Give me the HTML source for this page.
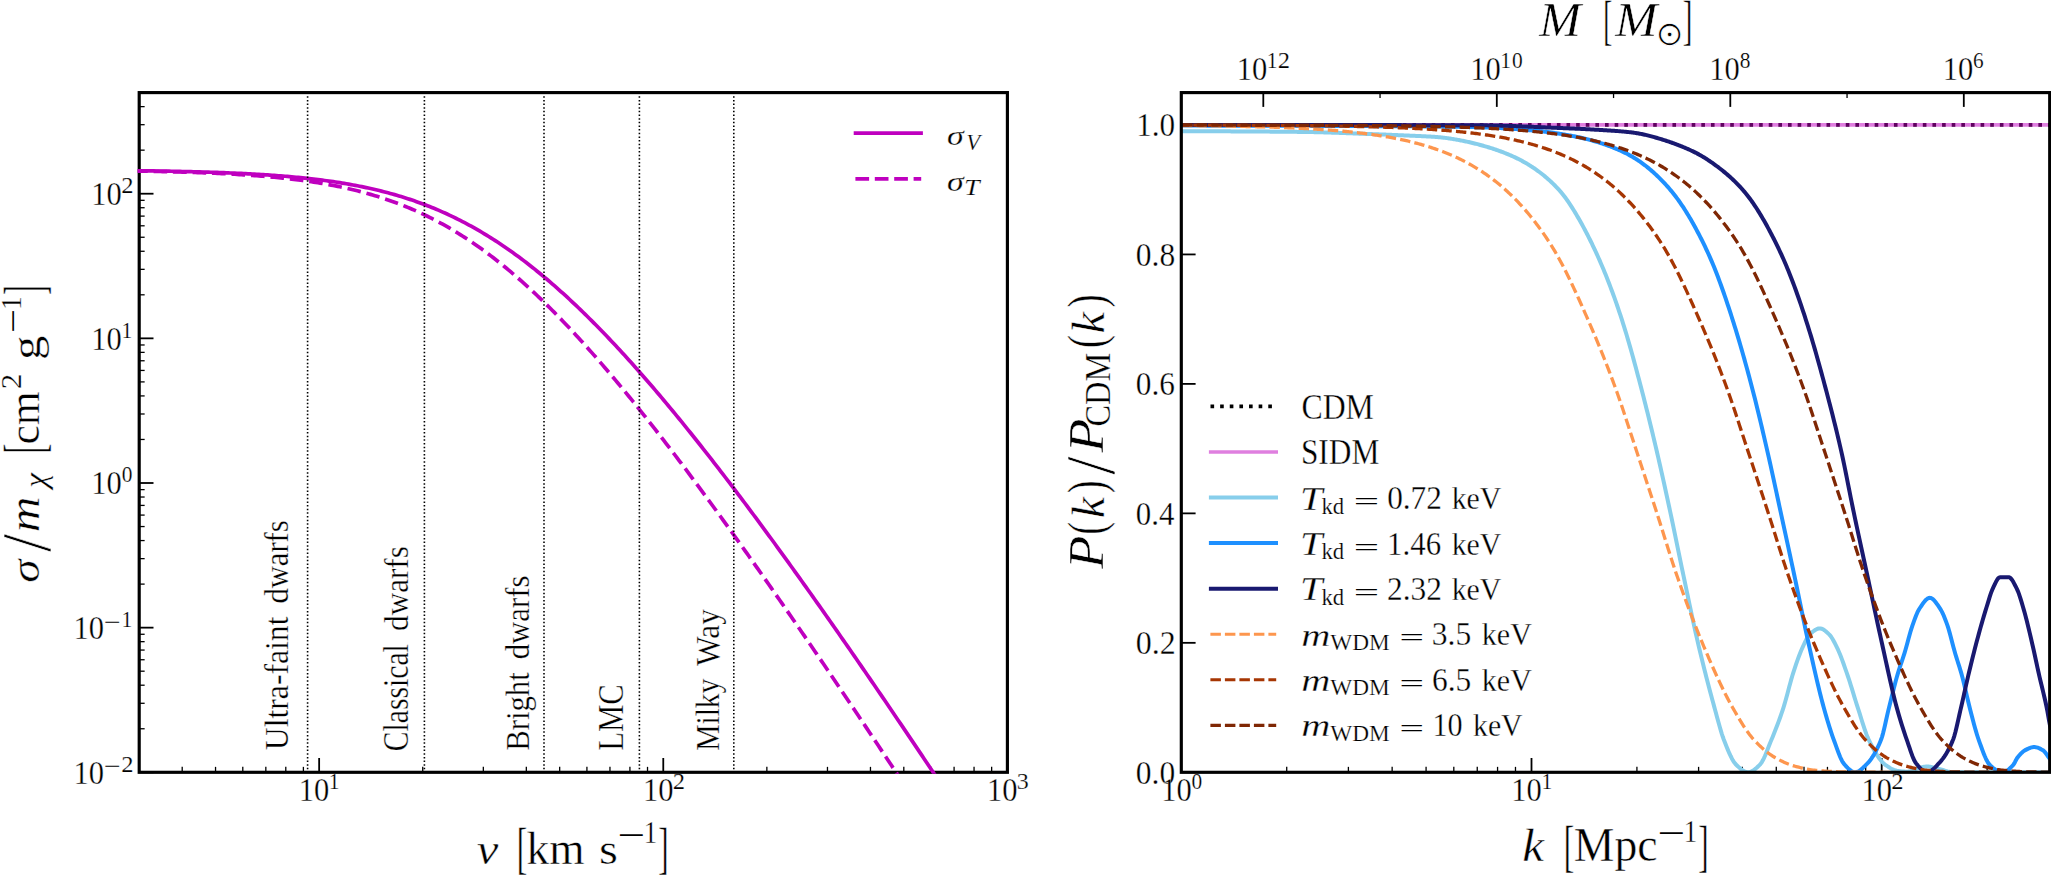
<!DOCTYPE html>
<html><head><meta charset="utf-8"><title>SIDM cross section and power spectrum</title>
<style>
html,body{margin:0;padding:0;background:#fff;overflow:hidden;}
svg{display:block;}
text{fill:#000;stroke:#fff;}
.r{font-family:"Liberation Serif",serif;}
.i{font-family:"Liberation Serif",serif;font-style:italic;}
.d{font-family:"DejaVu Math TeX Gyre","DejaVu Sans",sans-serif;}
</style></head><body>
<svg width="2051" height="875" viewBox="0 0 2051 875">
<rect width="2051" height="875" fill="#fff"/>
<clipPath id="cl"><rect x="137.7" y="92.6" width="869.7" height="681.1999999999999"/></clipPath>
<line x1="139.20" y1="772.30" x2="153.50" y2="772.30" stroke="#000" stroke-width="1.8" />
<line x1="139.20" y1="728.76" x2="144.65" y2="728.76" stroke="#000" stroke-width="1.3" />
<line x1="139.20" y1="703.29" x2="144.65" y2="703.29" stroke="#000" stroke-width="1.3" />
<line x1="139.20" y1="685.21" x2="144.65" y2="685.21" stroke="#000" stroke-width="1.3" />
<line x1="139.20" y1="671.19" x2="144.65" y2="671.19" stroke="#000" stroke-width="1.3" />
<line x1="139.20" y1="659.74" x2="144.65" y2="659.74" stroke="#000" stroke-width="1.3" />
<line x1="139.20" y1="650.06" x2="144.65" y2="650.06" stroke="#000" stroke-width="1.3" />
<line x1="139.20" y1="641.67" x2="144.65" y2="641.67" stroke="#000" stroke-width="1.3" />
<line x1="139.20" y1="634.27" x2="144.65" y2="634.27" stroke="#000" stroke-width="1.3" />
<line x1="139.20" y1="627.65" x2="153.50" y2="627.65" stroke="#000" stroke-width="1.8" />
<line x1="139.20" y1="584.11" x2="144.65" y2="584.11" stroke="#000" stroke-width="1.3" />
<line x1="139.20" y1="558.64" x2="144.65" y2="558.64" stroke="#000" stroke-width="1.3" />
<line x1="139.20" y1="540.56" x2="144.65" y2="540.56" stroke="#000" stroke-width="1.3" />
<line x1="139.20" y1="526.55" x2="144.65" y2="526.55" stroke="#000" stroke-width="1.3" />
<line x1="139.20" y1="515.09" x2="144.65" y2="515.09" stroke="#000" stroke-width="1.3" />
<line x1="139.20" y1="505.41" x2="144.65" y2="505.41" stroke="#000" stroke-width="1.3" />
<line x1="139.20" y1="497.02" x2="144.65" y2="497.02" stroke="#000" stroke-width="1.3" />
<line x1="139.20" y1="489.62" x2="144.65" y2="489.62" stroke="#000" stroke-width="1.3" />
<line x1="139.20" y1="483.00" x2="153.50" y2="483.00" stroke="#000" stroke-width="1.8" />
<line x1="139.20" y1="439.46" x2="144.65" y2="439.46" stroke="#000" stroke-width="1.3" />
<line x1="139.20" y1="413.99" x2="144.65" y2="413.99" stroke="#000" stroke-width="1.3" />
<line x1="139.20" y1="395.92" x2="144.65" y2="395.92" stroke="#000" stroke-width="1.3" />
<line x1="139.20" y1="381.90" x2="144.65" y2="381.90" stroke="#000" stroke-width="1.3" />
<line x1="139.20" y1="370.44" x2="144.65" y2="370.44" stroke="#000" stroke-width="1.3" />
<line x1="139.20" y1="360.76" x2="144.65" y2="360.76" stroke="#000" stroke-width="1.3" />
<line x1="139.20" y1="352.37" x2="144.65" y2="352.37" stroke="#000" stroke-width="1.3" />
<line x1="139.20" y1="344.97" x2="144.65" y2="344.97" stroke="#000" stroke-width="1.3" />
<line x1="139.20" y1="338.35" x2="153.50" y2="338.35" stroke="#000" stroke-width="1.8" />
<line x1="139.20" y1="294.81" x2="144.65" y2="294.81" stroke="#000" stroke-width="1.3" />
<line x1="139.20" y1="269.34" x2="144.65" y2="269.34" stroke="#000" stroke-width="1.3" />
<line x1="139.20" y1="251.27" x2="144.65" y2="251.27" stroke="#000" stroke-width="1.3" />
<line x1="139.20" y1="237.25" x2="144.65" y2="237.25" stroke="#000" stroke-width="1.3" />
<line x1="139.20" y1="225.80" x2="144.65" y2="225.80" stroke="#000" stroke-width="1.3" />
<line x1="139.20" y1="216.11" x2="144.65" y2="216.11" stroke="#000" stroke-width="1.3" />
<line x1="139.20" y1="207.72" x2="144.65" y2="207.72" stroke="#000" stroke-width="1.3" />
<line x1="139.20" y1="200.32" x2="144.65" y2="200.32" stroke="#000" stroke-width="1.3" />
<line x1="139.20" y1="193.71" x2="153.50" y2="193.71" stroke="#000" stroke-width="1.8" />
<line x1="139.20" y1="150.16" x2="144.65" y2="150.16" stroke="#000" stroke-width="1.3" />
<line x1="139.20" y1="124.69" x2="144.65" y2="124.69" stroke="#000" stroke-width="1.3" />
<line x1="139.20" y1="106.62" x2="144.65" y2="106.62" stroke="#000" stroke-width="1.3" />
<line x1="182.20" y1="772.30" x2="182.20" y2="766.85" stroke="#000" stroke-width="1.3" />
<line x1="215.54" y1="772.30" x2="215.54" y2="766.85" stroke="#000" stroke-width="1.3" />
<line x1="242.79" y1="772.30" x2="242.79" y2="766.85" stroke="#000" stroke-width="1.3" />
<line x1="265.83" y1="772.30" x2="265.83" y2="766.85" stroke="#000" stroke-width="1.3" />
<line x1="285.79" y1="772.30" x2="285.79" y2="766.85" stroke="#000" stroke-width="1.3" />
<line x1="303.39" y1="772.30" x2="303.39" y2="766.85" stroke="#000" stroke-width="1.3" />
<line x1="319.14" y1="772.30" x2="319.14" y2="758.00" stroke="#000" stroke-width="1.8" />
<line x1="422.73" y1="772.30" x2="422.73" y2="766.85" stroke="#000" stroke-width="1.3" />
<line x1="483.33" y1="772.30" x2="483.33" y2="766.85" stroke="#000" stroke-width="1.3" />
<line x1="526.33" y1="772.30" x2="526.33" y2="766.85" stroke="#000" stroke-width="1.3" />
<line x1="559.68" y1="772.30" x2="559.68" y2="766.85" stroke="#000" stroke-width="1.3" />
<line x1="586.92" y1="772.30" x2="586.92" y2="766.85" stroke="#000" stroke-width="1.3" />
<line x1="609.96" y1="772.30" x2="609.96" y2="766.85" stroke="#000" stroke-width="1.3" />
<line x1="629.92" y1="772.30" x2="629.92" y2="766.85" stroke="#000" stroke-width="1.3" />
<line x1="647.52" y1="772.30" x2="647.52" y2="766.85" stroke="#000" stroke-width="1.3" />
<line x1="663.27" y1="772.30" x2="663.27" y2="758.00" stroke="#000" stroke-width="1.8" />
<line x1="766.86" y1="772.30" x2="766.86" y2="766.85" stroke="#000" stroke-width="1.3" />
<line x1="827.46" y1="772.30" x2="827.46" y2="766.85" stroke="#000" stroke-width="1.3" />
<line x1="870.46" y1="772.30" x2="870.46" y2="766.85" stroke="#000" stroke-width="1.3" />
<line x1="903.81" y1="772.30" x2="903.81" y2="766.85" stroke="#000" stroke-width="1.3" />
<line x1="931.06" y1="772.30" x2="931.06" y2="766.85" stroke="#000" stroke-width="1.3" />
<line x1="954.09" y1="772.30" x2="954.09" y2="766.85" stroke="#000" stroke-width="1.3" />
<line x1="974.05" y1="772.30" x2="974.05" y2="766.85" stroke="#000" stroke-width="1.3" />
<line x1="991.65" y1="772.30" x2="991.65" y2="766.85" stroke="#000" stroke-width="1.3" />
<rect x="139.2" y="92.6" width="868.2" height="679.6999999999999" fill="none" stroke="#000" stroke-width="3.15"/>
<g clip-path="url(#cl)">
<path d="M134.13,170.69 L136.32,170.72 L138.51,170.74 L140.70,170.77 L142.89,170.80 L145.08,170.83 L147.27,170.86 L149.45,170.89 L151.64,170.92 L153.83,170.96 L156.02,170.99 L158.21,171.02 L160.40,171.06 L162.59,171.10 L164.77,171.14 L166.96,171.18 L169.15,171.22 L171.34,171.26 L173.53,171.30 L175.72,171.34 L177.91,171.39 L180.09,171.44 L182.28,171.48 L184.47,171.53 L186.66,171.58 L188.85,171.64 L191.04,171.69 L193.23,171.75 L195.42,171.80 L197.60,171.86 L199.79,171.92 L201.98,171.98 L204.17,172.05 L206.36,172.11 L208.55,172.18 L210.74,172.25 L212.92,172.32 L215.11,172.40 L217.30,172.47 L219.49,172.55 L221.68,172.63 L223.87,172.71 L226.06,172.80 L228.24,172.89 L230.43,172.98 L232.62,173.07 L234.81,173.16 L237.00,173.26 L239.19,173.36 L241.38,173.46 L243.57,173.57 L245.75,173.68 L247.94,173.79 L250.13,173.91 L252.32,174.03 L254.51,174.15 L256.70,174.28 L258.89,174.40 L261.07,174.54 L263.26,174.67 L265.45,174.81 L267.64,174.96 L269.83,175.11 L272.02,175.26 L274.21,175.41 L276.39,175.58 L278.58,175.74 L280.77,175.91 L282.96,176.09 L285.15,176.26 L287.34,176.45 L289.53,176.64 L291.72,176.83 L293.90,177.03 L296.09,177.24 L298.28,177.45 L300.47,177.66 L302.66,177.89 L304.85,178.12 L307.04,178.35 L309.22,178.59 L311.41,178.84 L313.60,179.09 L315.79,179.35 L317.98,179.62 L320.17,179.89 L322.36,180.17 L324.54,180.46 L326.73,180.76 L328.92,181.06 L331.11,181.37 L333.30,181.69 L335.49,182.02 L337.68,182.36 L339.87,182.70 L342.05,183.05 L344.24,183.42 L346.43,183.79 L348.62,184.17 L350.81,184.56 L353.00,184.96 L355.19,185.37 L357.37,185.79 L359.56,186.22 L361.75,186.66 L363.94,187.11 L366.13,187.57 L368.32,188.04 L370.51,188.52 L372.69,189.02 L374.88,189.53 L377.07,190.04 L379.26,190.57 L381.45,191.12 L383.64,191.67 L385.83,192.24 L388.02,192.82 L390.20,193.42 L392.39,194.02 L394.58,194.64 L396.77,195.28 L398.96,195.92 L401.15,196.59 L403.34,197.26 L405.52,197.95 L407.71,198.66 L409.90,199.38 L412.09,200.11 L414.28,200.86 L416.47,201.63 L418.66,202.41 L420.84,203.20 L423.03,204.02 L425.22,204.84 L427.41,205.69 L429.60,206.55 L431.79,207.43 L433.98,208.32 L436.17,209.23 L438.35,210.16 L440.54,211.11 L442.73,212.07 L444.92,213.05 L447.11,214.05 L449.30,215.06 L451.49,216.10 L453.67,217.15 L455.86,218.21 L458.05,219.30 L460.24,220.41 L462.43,221.53 L464.62,222.67 L466.81,223.83 L468.99,225.01 L471.18,226.21 L473.37,227.43 L475.56,228.66 L477.75,229.92 L479.94,231.19 L482.13,232.48 L484.32,233.79 L486.50,235.12 L488.69,236.47 L490.88,237.84 L493.07,239.23 L495.26,240.63 L497.45,242.06 L499.64,243.50 L501.82,244.96 L504.01,246.45 L506.20,247.95 L508.39,249.47 L510.58,251.01 L512.77,252.57 L514.96,254.14 L517.14,255.74 L519.33,257.35 L521.52,258.99 L523.71,260.64 L525.90,262.31 L528.09,264.00 L530.28,265.71 L532.47,267.43 L534.65,269.18 L536.84,270.94 L539.03,272.72 L541.22,274.52 L543.41,276.34 L545.60,278.17 L547.79,280.02 L549.97,281.89 L552.16,283.78 L554.35,285.69 L556.54,287.61 L558.73,289.55 L560.92,291.51 L563.11,293.48 L565.30,295.47 L567.48,297.48 L569.67,299.50 L571.86,301.54 L574.05,303.60 L576.24,305.67 L578.43,307.76 L580.62,309.86 L582.80,311.98 L584.99,314.12 L587.18,316.27 L589.37,318.44 L591.56,320.62 L593.75,322.82 L595.94,325.03 L598.12,327.26 L600.31,329.50 L602.50,331.76 L604.69,334.03 L606.88,336.31 L609.07,338.61 L611.26,340.92 L613.45,343.25 L615.63,345.59 L617.82,347.94 L620.01,350.31 L622.20,352.69 L624.39,355.08 L626.58,357.49 L628.77,359.91 L630.95,362.34 L633.14,364.78 L635.33,367.24 L637.52,369.71 L639.71,372.19 L641.90,374.68 L644.09,377.19 L646.27,379.70 L648.46,382.23 L650.65,384.77 L652.84,387.32 L655.03,389.88 L657.22,392.45 L659.41,395.04 L661.60,397.63 L663.78,400.24 L665.97,402.85 L668.16,405.48 L670.35,408.11 L672.54,410.76 L674.73,413.42 L676.92,416.08 L679.10,418.76 L681.29,421.44 L683.48,424.14 L685.67,426.84 L687.86,429.55 L690.05,432.28 L692.24,435.01 L694.42,437.75 L696.61,440.50 L698.80,443.26 L700.99,446.02 L703.18,448.80 L705.37,451.58 L707.56,454.38 L709.75,457.18 L711.93,459.98 L714.12,462.80 L716.31,465.62 L718.50,468.46 L720.69,471.30 L722.88,474.14 L725.07,477.00 L727.25,479.86 L729.44,482.73 L731.63,485.61 L733.82,488.49 L736.01,491.38 L738.20,494.28 L740.39,497.18 L742.57,500.10 L744.76,503.01 L746.95,505.94 L749.14,508.87 L751.33,511.81 L753.52,514.75 L755.71,517.70 L757.90,520.66 L760.08,523.62 L762.27,526.59 L764.46,529.57 L766.65,532.55 L768.84,535.53 L771.03,538.53 L773.22,541.52 L775.40,544.53 L777.59,547.54 L779.78,550.55 L781.97,553.57 L784.16,556.60 L786.35,559.63 L788.54,562.66 L790.72,565.71 L792.91,568.75 L795.10,571.80 L797.29,574.86 L799.48,577.92 L801.67,580.99 L803.86,584.06 L806.05,587.13 L808.23,590.21 L810.42,593.30 L812.61,596.39 L814.80,599.48 L816.99,602.58 L819.18,605.68 L821.37,608.79 L823.55,611.90 L825.74,615.02 L827.93,618.14 L830.12,621.26 L832.31,624.39 L834.50,627.52 L836.69,630.66 L838.87,633.80 L841.06,636.94 L843.25,640.09 L845.44,643.24 L847.63,646.40 L849.82,649.56 L852.01,652.72 L854.20,655.89 L856.38,659.06 L858.57,662.23 L860.76,665.41 L862.95,668.59 L865.14,671.77 L867.33,674.96 L869.52,678.15 L871.70,681.35 L873.89,684.54 L876.08,687.74 L878.27,690.95 L880.46,694.16 L882.65,697.37 L884.84,700.58 L887.02,703.80 L889.21,707.02 L891.40,710.24 L893.59,713.46 L895.78,716.69 L897.97,719.92 L900.16,723.16 L902.35,726.40 L904.53,729.64 L906.72,732.88 L908.91,736.12 L911.10,739.37 L913.29,742.62 L915.48,745.88 L917.67,749.13 L919.85,752.39 L922.04,755.65 L924.23,758.92 L926.42,762.18 L928.61,765.45 L930.80,768.72 L932.99,772.00 L935.17,775.27 L937.36,778.55 L939.55,781.83 L941.74,785.12 L943.93,788.40 L946.12,791.69 L948.31,794.98 L950.50,798.27 L952.68,801.57" fill="none" stroke="#bf00bf" stroke-width="3.7" stroke-linejoin="round" />
<path d="M134.13,170.99 L136.32,171.02 L138.51,171.06 L140.70,171.09 L142.89,171.13 L145.08,171.17 L147.27,171.21 L149.45,171.25 L151.64,171.29 L153.83,171.34 L156.02,171.38 L158.21,171.43 L160.40,171.48 L162.59,171.53 L164.77,171.58 L166.96,171.63 L169.15,171.68 L171.34,171.74 L173.53,171.80 L175.72,171.86 L177.91,171.92 L180.09,171.98 L182.28,172.04 L184.47,172.11 L186.66,172.18 L188.85,172.24 L191.04,172.32 L193.23,172.39 L195.42,172.47 L197.60,172.54 L199.79,172.62 L201.98,172.71 L204.17,172.79 L206.36,172.88 L208.55,172.97 L210.74,173.06 L212.92,173.16 L215.11,173.25 L217.30,173.35 L219.49,173.46 L221.68,173.56 L223.87,173.67 L226.06,173.79 L228.24,173.90 L230.43,174.02 L232.62,174.14 L234.81,174.27 L237.00,174.40 L239.19,174.53 L241.38,174.67 L243.57,174.81 L245.75,174.95 L247.94,175.10 L250.13,175.26 L252.32,175.41 L254.51,175.58 L256.70,175.74 L258.89,175.91 L261.07,176.09 L263.26,176.27 L265.45,176.45 L267.64,176.64 L269.83,176.84 L272.02,177.04 L274.21,177.25 L276.39,177.46 L278.58,177.68 L280.77,177.90 L282.96,178.13 L285.15,178.37 L287.34,178.61 L289.53,178.86 L291.72,179.12 L293.90,179.38 L296.09,179.65 L298.28,179.93 L300.47,180.21 L302.66,180.50 L304.85,180.80 L307.04,181.11 L309.22,181.43 L311.41,181.75 L313.60,182.08 L315.79,182.42 L317.98,182.77 L320.17,183.13 L322.36,183.50 L324.54,183.88 L326.73,184.27 L328.92,184.66 L331.11,185.07 L333.30,185.49 L335.49,185.91 L337.68,186.35 L339.87,186.80 L342.05,187.26 L344.24,187.73 L346.43,188.22 L348.62,188.71 L350.81,189.22 L353.00,189.74 L355.19,190.27 L357.37,190.81 L359.56,191.37 L361.75,191.94 L363.94,192.52 L366.13,193.12 L368.32,193.73 L370.51,194.36 L372.69,195.00 L374.88,195.65 L377.07,196.32 L379.26,197.00 L381.45,197.70 L383.64,198.41 L385.83,199.14 L388.02,199.89 L390.20,200.65 L392.39,201.42 L394.58,202.22 L396.77,203.03 L398.96,203.86 L401.15,204.70 L403.34,205.56 L405.52,206.44 L407.71,207.34 L409.90,208.25 L412.09,209.18 L414.28,210.14 L416.47,211.10 L418.66,212.09 L420.84,213.10 L423.03,214.12 L425.22,215.17 L427.41,216.23 L429.60,217.32 L431.79,218.42 L433.98,219.54 L436.17,220.68 L438.35,221.84 L440.54,223.03 L442.73,224.23 L444.92,225.45 L447.11,226.69 L449.30,227.95 L451.49,229.24 L453.67,230.54 L455.86,231.86 L458.05,233.21 L460.24,234.58 L462.43,235.96 L464.62,237.37 L466.81,238.80 L468.99,240.24 L471.18,241.71 L473.37,243.20 L475.56,244.72 L477.75,246.25 L479.94,247.80 L482.13,249.37 L484.32,250.97 L486.50,252.58 L488.69,254.22 L490.88,255.87 L493.07,257.55 L495.26,259.25 L497.45,260.97 L499.64,262.70 L501.82,264.46 L504.01,266.24 L506.20,268.04 L508.39,269.86 L510.58,271.70 L512.77,273.55 L514.96,275.43 L517.14,277.33 L519.33,279.24 L521.52,281.18 L523.71,283.14 L525.90,285.11 L528.09,287.10 L530.28,289.11 L532.47,291.14 L534.65,293.19 L536.84,295.26 L539.03,297.35 L541.22,299.45 L543.41,301.57 L545.60,303.71 L547.79,305.86 L549.97,308.04 L552.16,310.23 L554.35,312.43 L556.54,314.66 L558.73,316.90 L560.92,319.15 L563.11,321.43 L565.30,323.72 L567.48,326.02 L569.67,328.34 L571.86,330.68 L574.05,333.03 L576.24,335.39 L578.43,337.78 L580.62,340.17 L582.80,342.58 L584.99,345.01 L587.18,347.45 L589.37,349.90 L591.56,352.37 L593.75,354.85 L595.94,357.34 L598.12,359.85 L600.31,362.37 L602.50,364.91 L604.69,367.45 L606.88,370.01 L609.07,372.58 L611.26,375.17 L613.45,377.76 L615.63,380.37 L617.82,382.99 L620.01,385.62 L622.20,388.27 L624.39,390.92 L626.58,393.59 L628.77,396.26 L630.95,398.95 L633.14,401.65 L635.33,404.36 L637.52,407.08 L639.71,409.81 L641.90,412.54 L644.09,415.29 L646.27,418.05 L648.46,420.82 L650.65,423.60 L652.84,426.39 L655.03,429.18 L657.22,431.99 L659.41,434.80 L661.60,437.63 L663.78,440.46 L665.97,443.30 L668.16,446.15 L670.35,449.01 L672.54,451.87 L674.73,454.75 L676.92,457.63 L679.10,460.52 L681.29,463.42 L683.48,466.32 L685.67,469.23 L687.86,472.15 L690.05,475.08 L692.24,478.02 L694.42,480.96 L696.61,483.91 L698.80,486.86 L700.99,489.82 L703.18,492.79 L705.37,495.77 L707.56,498.75 L709.75,501.74 L711.93,504.73 L714.12,507.73 L716.31,510.74 L718.50,513.75 L720.69,516.77 L722.88,519.80 L725.07,522.83 L727.25,525.87 L729.44,528.91 L731.63,531.95 L733.82,535.01 L736.01,538.07 L738.20,541.13 L740.39,544.20 L742.57,547.27 L744.76,550.35 L746.95,553.43 L749.14,556.52 L751.33,559.62 L753.52,562.72 L755.71,565.82 L757.90,568.93 L760.08,572.04 L762.27,575.16 L764.46,578.28 L766.65,581.41 L768.84,584.54 L771.03,587.67 L773.22,590.81 L775.40,593.95 L777.59,597.10 L779.78,600.25 L781.97,603.41 L784.16,606.57 L786.35,609.73 L788.54,612.90 L790.72,616.07 L792.91,619.24 L795.10,622.42 L797.29,625.61 L799.48,628.79 L801.67,631.98 L803.86,635.17 L806.05,638.37 L808.23,641.57 L810.42,644.77 L812.61,647.98 L814.80,651.19 L816.99,654.40 L819.18,657.62 L821.37,660.84 L823.55,664.06 L825.74,667.29 L827.93,670.52 L830.12,673.75 L832.31,676.99 L834.50,680.22 L836.69,683.47 L838.87,686.71 L841.06,689.96 L843.25,693.21 L845.44,696.46 L847.63,699.71 L849.82,702.97 L852.01,706.23 L854.20,709.50 L856.38,712.76 L858.57,716.03 L860.76,719.30 L862.95,722.57 L865.14,725.85 L867.33,729.13 L869.52,732.41 L871.70,735.69 L873.89,738.98 L876.08,742.27 L878.27,745.56 L880.46,748.85 L882.65,752.15 L884.84,755.44 L887.02,758.74 L889.21,762.05 L891.40,765.35 L893.59,768.66 L895.78,771.97 L897.97,775.28 L900.16,778.59 L902.35,781.90 L904.53,785.22 L906.72,788.54 L908.91,791.86 L911.10,795.18 L913.29,798.51 L915.48,801.84" fill="none" stroke="#bf00bf" stroke-width="3.7" stroke-dasharray="13.6 5.9" stroke-linejoin="round" />
<line x1="307.6" y1="92.6" x2="307.6" y2="772.3" stroke="#000" stroke-width="1.6" stroke-dasharray="1.5 2.15"/>
<line x1="424.4" y1="92.6" x2="424.4" y2="772.3" stroke="#000" stroke-width="1.6" stroke-dasharray="1.5 2.15"/>
<line x1="544.0" y1="92.6" x2="544.0" y2="772.3" stroke="#000" stroke-width="1.6" stroke-dasharray="1.5 2.15"/>
<line x1="639.4" y1="92.6" x2="639.4" y2="772.3" stroke="#000" stroke-width="1.6" stroke-dasharray="1.5 2.15"/>
<line x1="733.8" y1="92.6" x2="733.8" y2="772.3" stroke="#000" stroke-width="1.6" stroke-dasharray="1.5 2.15"/>
</g>
<text class="r" font-size="33.04" stroke-width="0.31" transform="translate(91.33,205.17) scale(0.9236,1)">10</text>
<text class="r" font-size="23.17" stroke-width="0.22" transform="translate(121.15,193.36) scale(1.0616,1)">2</text>
<text class="r" font-size="33.04" stroke-width="0.31" transform="translate(91.33,349.82) scale(0.9236,1)">10</text>
<text class="r" font-size="22.88" stroke-width="0.22" transform="translate(121.41,337.75) scale(0.9424,1)">1</text>
<text class="r" font-size="33.04" stroke-width="0.31" transform="translate(91.33,494.47) scale(0.9236,1)">10</text>
<text class="r" font-size="22.74" stroke-width="0.22" transform="translate(121.80,482.43) scale(0.9416,1)">0</text>
<text class="r" font-size="33.04" stroke-width="0.31" transform="translate(73.43,639.12) scale(0.9236,1)">10</text>
<text class="r" font-size="24.00" stroke-width="0" transform="translate(104.02,629.83) scale(1.2366,1)">−</text>
<text class="r" font-size="22.88" stroke-width="0.22" transform="translate(121.41,627.05) scale(0.9424,1)">1</text>
<text class="r" font-size="33.04" stroke-width="0.31" transform="translate(73.43,783.77) scale(0.9236,1)">10</text>
<text class="r" font-size="24.00" stroke-width="0" transform="translate(104.02,774.48) scale(1.2366,1)">−</text>
<text class="r" font-size="23.17" stroke-width="0.22" transform="translate(121.15,771.95) scale(1.0616,1)">2</text>
<text class="r" font-size="33.04" stroke-width="0.31" transform="translate(298.77,800.97) scale(0.9236,1)">10</text>
<text class="r" font-size="22.88" stroke-width="0.22" transform="translate(328.85,788.90) scale(0.9424,1)">1</text>
<text class="r" font-size="33.04" stroke-width="0.31" transform="translate(642.90,800.97) scale(0.9236,1)">10</text>
<text class="r" font-size="23.17" stroke-width="0.22" transform="translate(672.72,789.15) scale(1.0616,1)">2</text>
<text class="r" font-size="33.04" stroke-width="0.31" transform="translate(987.03,800.97) scale(0.9236,1)">10</text>
<text class="r" font-size="22.83" stroke-width="0.22" transform="translate(1016.76,788.92) scale(1.0515,1)">3</text>
<text class="r" font-size="33.15" stroke-width="0.31" transform="translate(288.27,750.23) rotate(-90) scale(0.9565,1)">Ultra-faint</text>
<text class="r" font-size="33.15" stroke-width="0.31" transform="translate(288.27,603.57) rotate(-90) scale(0.9233,1)">dwarfs</text>
<text class="r" font-size="34.89" stroke-width="0.33" transform="translate(407.95,751.19) rotate(-90) scale(0.8493,1)">Classical</text>
<text class="r" font-size="34.41" stroke-width="0.33" transform="translate(407.96,630.89) rotate(-90) scale(0.9049,1)">dwarfs</text>
<text class="r" font-size="33.30" stroke-width="0.32" transform="translate(529.14,750.85) rotate(-90) scale(0.9239,1)">Bright</text>
<text class="r" font-size="33.15" stroke-width="0.31" transform="translate(528.97,659.28) rotate(-90) scale(0.9290,1)">dwarfs</text>
<text class="r" font-size="35.39" stroke-width="0.34" transform="translate(622.55,750.84) rotate(-90) scale(0.8673,1)">LMC</text>
<text class="r" font-size="32.97" stroke-width="0.31" transform="translate(719.31,750.81) rotate(-90) scale(0.8956,1)">Milky</text>
<text class="r" font-size="34.48" stroke-width="0.33" transform="translate(718.99,665.90) rotate(-90) scale(0.9126,1)">Way</text>
<line x1="853.70" y1="133.10" x2="922.90" y2="133.10" stroke-width="3.7" stroke="#bf00bf"/>
<line x1="855.4" y1="178.9" x2="921.2" y2="178.9" stroke="#bf00bf" stroke-width="3.7" stroke-dasharray="13.7 5.7"/>
<text class="i" font-size="28.06" stroke-width="0.27" transform="translate(946.98,145.12) scale(1.2097,1)">σ</text>
<text class="i" font-size="23.88" stroke-width="0.23" transform="translate(966.21,149.74) scale(0.9526,1)">V</text>
<text class="i" font-size="28.06" stroke-width="0.27" transform="translate(946.98,190.52) scale(1.2097,1)">σ</text>
<text class="i" font-size="23.97" stroke-width="0.23" transform="translate(963.88,195.10) scale(1.1682,1)">T</text>
<text class="i" font-size="45.11" stroke-width="0.43" transform="translate(476.67,863.55) scale(1.0776,1)">v</text>
<text class="r" font-size="56.14" stroke-width="0.53" transform="translate(516.84,867.22) scale(0.5604,1)">[</text>
<text class="r" font-size="46.62" stroke-width="0.44" transform="translate(526.59,863.70) scale(0.9737,1)">km</text>
<text class="r" font-size="45.00" stroke-width="0.43" transform="translate(599.05,863.75) scale(1.0809,1)">s</text>
<text class="r" font-size="33.00" stroke-width="0" transform="translate(617.55,846.07) scale(1.4858,1)">−</text>
<text class="r" font-size="31.21" stroke-width="0.30" transform="translate(643.64,843.10) scale(0.8635,1)">1</text>
<text class="r" font-size="56.14" stroke-width="0.53" transform="translate(658.21,867.22) scale(0.5541,1)">]</text>
<text class="i" font-size="40.57" stroke-width="0.39" transform="translate(38.89,582.82) rotate(-90) scale(1.1653,1)">σ</text>
<text class="r" font-size="69.55" stroke-width="0.66" transform="translate(49.60,552.10) rotate(-90) scale(0.9274,1)">/</text>
<text class="i" font-size="43.83" stroke-width="0.42" transform="translate(38.90,532.23) rotate(-90) scale(1.1284,1)">m</text>
<text class="i" font-size="32.12" stroke-width="0.31" transform="translate(46.17,487.65) rotate(-90) scale(1.0320,1)">χ</text>
<text class="r" font-size="56.27" stroke-width="0.53" transform="translate(42.70,453.42) rotate(-90) scale(0.5272,1)">[</text>
<text class="r" font-size="44.38" stroke-width="0.42" transform="translate(38.76,444.54) rotate(-90) scale(0.9842,1)">cm</text>
<text class="r" font-size="30.19" stroke-width="0.29" transform="translate(21.00,389.23) rotate(-90) scale(1.0370,1)">2</text>
<text class="r" font-size="41.37" stroke-width="0.39" transform="translate(39.70,359.88) rotate(-90) scale(1.1822,1)">g</text>
<text class="r" font-size="33.00" stroke-width="0" transform="translate(23.57,333.03) rotate(-90) scale(1.2903,1)">−</text>
<text class="r" font-size="30.30" stroke-width="0.29" transform="translate(21.00,310.01) rotate(-90) scale(0.9081,1)">1</text>
<text class="r" font-size="56.27" stroke-width="0.53" transform="translate(42.70,295.03) rotate(-90) scale(0.5213,1)">]</text>
<clipPath id="cr"><rect x="1181.3" y="92.6" width="868.3999999999999" height="679.6999999999999"/></clipPath>
<line x1="1181.30" y1="772.30" x2="1195.60" y2="772.30" stroke="#000" stroke-width="1.8" />
<line x1="1181.30" y1="642.83" x2="1195.60" y2="642.83" stroke="#000" stroke-width="1.8" />
<line x1="1181.30" y1="513.37" x2="1195.60" y2="513.37" stroke="#000" stroke-width="1.8" />
<line x1="1181.30" y1="383.90" x2="1195.60" y2="383.90" stroke="#000" stroke-width="1.8" />
<line x1="1181.30" y1="254.43" x2="1195.60" y2="254.43" stroke="#000" stroke-width="1.8" />
<line x1="1181.30" y1="124.97" x2="1195.60" y2="124.97" stroke="#000" stroke-width="1.8" />
<line x1="1286.72" y1="772.30" x2="1286.72" y2="766.85" stroke="#000" stroke-width="1.3" />
<line x1="1348.39" y1="772.30" x2="1348.39" y2="766.85" stroke="#000" stroke-width="1.3" />
<line x1="1392.14" y1="772.30" x2="1392.14" y2="766.85" stroke="#000" stroke-width="1.3" />
<line x1="1426.08" y1="772.30" x2="1426.08" y2="766.85" stroke="#000" stroke-width="1.3" />
<line x1="1453.81" y1="772.30" x2="1453.81" y2="766.85" stroke="#000" stroke-width="1.3" />
<line x1="1477.25" y1="772.30" x2="1477.25" y2="766.85" stroke="#000" stroke-width="1.3" />
<line x1="1497.56" y1="772.30" x2="1497.56" y2="766.85" stroke="#000" stroke-width="1.3" />
<line x1="1515.48" y1="772.30" x2="1515.48" y2="766.85" stroke="#000" stroke-width="1.3" />
<line x1="1531.50" y1="772.30" x2="1531.50" y2="758.00" stroke="#000" stroke-width="1.8" />
<line x1="1636.92" y1="772.30" x2="1636.92" y2="766.85" stroke="#000" stroke-width="1.3" />
<line x1="1698.59" y1="772.30" x2="1698.59" y2="766.85" stroke="#000" stroke-width="1.3" />
<line x1="1742.34" y1="772.30" x2="1742.34" y2="766.85" stroke="#000" stroke-width="1.3" />
<line x1="1776.28" y1="772.30" x2="1776.28" y2="766.85" stroke="#000" stroke-width="1.3" />
<line x1="1804.01" y1="772.30" x2="1804.01" y2="766.85" stroke="#000" stroke-width="1.3" />
<line x1="1827.45" y1="772.30" x2="1827.45" y2="766.85" stroke="#000" stroke-width="1.3" />
<line x1="1847.76" y1="772.30" x2="1847.76" y2="766.85" stroke="#000" stroke-width="1.3" />
<line x1="1865.68" y1="772.30" x2="1865.68" y2="766.85" stroke="#000" stroke-width="1.3" />
<line x1="1881.70" y1="772.30" x2="1881.70" y2="758.00" stroke="#000" stroke-width="1.8" />
<line x1="1987.12" y1="772.30" x2="1987.12" y2="766.85" stroke="#000" stroke-width="1.3" />
<line x1="1963.80" y1="92.60" x2="1963.80" y2="106.90" stroke="#000" stroke-width="1.8" />
<line x1="1847.05" y1="92.60" x2="1847.05" y2="98.05" stroke="#000" stroke-width="1.3" />
<line x1="1730.30" y1="92.60" x2="1730.30" y2="106.90" stroke="#000" stroke-width="1.8" />
<line x1="1613.55" y1="92.60" x2="1613.55" y2="98.05" stroke="#000" stroke-width="1.3" />
<line x1="1496.80" y1="92.60" x2="1496.80" y2="106.90" stroke="#000" stroke-width="1.8" />
<line x1="1380.05" y1="92.60" x2="1380.05" y2="98.05" stroke="#000" stroke-width="1.3" />
<line x1="1263.30" y1="92.60" x2="1263.30" y2="106.90" stroke="#000" stroke-width="1.8" />
<g clip-path="url(#cr)">
<line x1="1181.3" y1="124.97" x2="2049.7" y2="124.97" stroke="#000" stroke-width="3.7" stroke-dasharray="3.63 6.0"/>
<line x1="1181.3" y1="124.97" x2="2049.7" y2="124.97" stroke="#bf00bf" stroke-opacity="0.5" stroke-width="3.7"/>
<path d="M1181.30,131.25 L1182.28,131.25 L1183.25,131.25 L1184.23,131.25 L1185.21,131.25 L1186.19,131.25 L1187.16,131.25 L1188.14,131.25 L1189.12,131.25 L1190.10,131.25 L1191.07,131.25 L1192.05,131.25 L1193.03,131.26 L1194.01,131.26 L1194.98,131.26 L1195.96,131.26 L1196.94,131.26 L1197.92,131.26 L1198.89,131.26 L1199.87,131.27 L1200.85,131.27 L1201.83,131.27 L1202.80,131.27 L1203.78,131.27 L1204.76,131.28 L1205.74,131.28 L1206.71,131.28 L1207.69,131.28 L1208.67,131.29 L1209.65,131.29 L1210.62,131.29 L1211.60,131.30 L1212.58,131.30 L1213.55,131.30 L1214.53,131.31 L1215.51,131.31 L1216.49,131.31 L1217.46,131.32 L1218.44,131.32 L1219.42,131.32 L1220.40,131.33 L1221.37,131.33 L1222.35,131.34 L1223.33,131.34 L1224.31,131.34 L1225.28,131.35 L1226.26,131.35 L1227.24,131.36 L1228.22,131.36 L1229.19,131.37 L1230.17,131.37 L1231.15,131.38 L1232.13,131.38 L1233.10,131.38 L1234.08,131.39 L1235.06,131.39 L1236.04,131.40 L1237.01,131.41 L1237.99,131.41 L1238.97,131.42 L1239.95,131.42 L1240.92,131.43 L1241.90,131.43 L1242.88,131.44 L1243.85,131.44 L1244.83,131.45 L1245.81,131.46 L1246.79,131.46 L1247.76,131.47 L1248.74,131.47 L1249.72,131.48 L1250.70,131.49 L1251.67,131.49 L1252.65,131.50 L1253.63,131.51 L1254.61,131.51 L1255.58,131.52 L1256.56,131.53 L1257.54,131.53 L1258.52,131.54 L1259.49,131.55 L1260.47,131.55 L1261.45,131.56 L1262.43,131.57 L1263.40,131.58 L1264.38,131.58 L1265.36,131.59 L1266.34,131.60 L1267.31,131.61 L1268.29,131.61 L1269.27,131.62 L1270.25,131.63 L1271.22,131.64 L1272.20,131.64 L1273.18,131.65 L1274.15,131.66 L1275.13,131.67 L1276.11,131.68 L1277.09,131.69 L1278.06,131.69 L1279.04,131.70 L1280.02,131.71 L1281.00,131.72 L1281.97,131.73 L1282.95,131.74 L1283.93,131.74 L1284.91,131.75 L1285.88,131.76 L1286.86,131.77 L1287.84,131.78 L1288.82,131.79 L1289.79,131.80 L1290.77,131.81 L1291.75,131.82 L1292.73,131.83 L1293.70,131.83 L1294.68,131.84 L1295.66,131.85 L1296.64,131.86 L1297.61,131.88 L1298.59,131.89 L1299.57,131.90 L1300.55,131.91 L1301.52,131.92 L1302.50,131.93 L1303.48,131.95 L1304.45,131.96 L1305.43,131.98 L1306.41,131.99 L1307.39,132.01 L1308.36,132.02 L1309.34,132.04 L1310.32,132.06 L1311.30,132.08 L1312.27,132.10 L1313.25,132.12 L1314.23,132.14 L1315.21,132.16 L1316.18,132.18 L1317.16,132.21 L1318.14,132.23 L1319.12,132.26 L1320.09,132.28 L1321.07,132.31 L1322.05,132.33 L1323.03,132.36 L1324.00,132.39 L1324.98,132.42 L1325.96,132.45 L1326.94,132.47 L1327.91,132.50 L1328.89,132.53 L1329.87,132.57 L1330.85,132.60 L1331.82,132.63 L1332.80,132.66 L1333.78,132.69 L1334.75,132.73 L1335.73,132.76 L1336.71,132.79 L1337.69,132.83 L1338.66,132.86 L1339.64,132.90 L1340.62,132.93 L1341.60,132.97 L1342.57,133.00 L1343.55,133.04 L1344.53,133.07 L1345.51,133.11 L1346.48,133.15 L1347.46,133.18 L1348.44,133.22 L1349.42,133.26 L1350.39,133.29 L1351.37,133.33 L1352.35,133.37 L1353.33,133.40 L1354.30,133.44 L1355.28,133.48 L1356.26,133.52 L1357.24,133.55 L1358.21,133.59 L1359.19,133.63 L1360.17,133.67 L1361.15,133.70 L1362.12,133.74 L1363.10,133.78 L1364.08,133.82 L1365.05,133.85 L1366.03,133.89 L1367.01,133.93 L1367.99,133.96 L1368.96,134.00 L1369.94,134.04 L1370.92,134.07 L1371.90,134.11 L1372.87,134.14 L1373.85,134.18 L1374.83,134.22 L1375.81,134.25 L1376.78,134.29 L1377.76,134.33 L1378.74,134.36 L1379.72,134.40 L1380.69,134.44 L1381.67,134.47 L1382.65,134.51 L1383.63,134.55 L1384.60,134.58 L1385.58,134.62 L1386.56,134.66 L1387.54,134.70 L1388.51,134.74 L1389.49,134.78 L1390.47,134.82 L1391.45,134.85 L1392.42,134.89 L1393.40,134.93 L1394.38,134.97 L1395.35,135.01 L1396.33,135.06 L1397.31,135.10 L1398.29,135.14 L1399.26,135.18 L1400.24,135.22 L1401.22,135.26 L1402.20,135.30 L1403.17,135.35 L1404.15,135.39 L1405.13,135.43 L1406.11,135.47 L1407.08,135.52 L1408.06,135.56 L1409.04,135.60 L1410.02,135.65 L1410.99,135.69 L1411.97,135.73 L1412.95,135.77 L1413.93,135.82 L1414.90,135.86 L1415.88,135.90 L1416.86,135.95 L1417.84,135.99 L1418.81,136.03 L1419.79,136.07 L1420.77,136.12 L1421.75,136.16 L1422.72,136.21 L1423.70,136.25 L1424.68,136.30 L1425.65,136.35 L1426.63,136.40 L1427.61,136.45 L1428.59,136.50 L1429.56,136.56 L1430.54,136.61 L1431.52,136.67 L1432.50,136.73 L1433.47,136.79 L1434.45,136.86 L1435.43,136.93 L1436.41,137.00 L1437.38,137.08 L1438.36,137.16 L1439.34,137.25 L1440.32,137.34 L1441.29,137.44 L1442.27,137.54 L1443.25,137.65 L1444.23,137.76 L1445.20,137.88 L1446.18,138.00 L1447.16,138.13 L1448.14,138.27 L1449.11,138.41 L1450.09,138.56 L1451.07,138.71 L1452.05,138.86 L1453.02,139.02 L1454.00,139.19 L1454.98,139.35 L1455.95,139.52 L1456.93,139.70 L1457.91,139.88 L1458.89,140.06 L1459.86,140.24 L1460.84,140.43 L1461.82,140.62 L1462.80,140.81 L1463.77,141.01 L1464.75,141.21 L1465.73,141.42 L1466.71,141.63 L1467.68,141.84 L1468.66,142.06 L1469.64,142.28 L1470.62,142.50 L1471.59,142.73 L1472.57,142.97 L1473.55,143.20 L1474.53,143.44 L1475.50,143.69 L1476.48,143.93 L1477.46,144.18 L1478.44,144.44 L1479.41,144.70 L1480.39,144.96 L1481.37,145.23 L1482.35,145.50 L1483.32,145.78 L1484.30,146.06 L1485.28,146.34 L1486.25,146.63 L1487.23,146.92 L1488.21,147.22 L1489.19,147.52 L1490.16,147.83 L1491.14,148.14 L1492.12,148.45 L1493.10,148.77 L1494.07,149.10 L1495.05,149.43 L1496.03,149.76 L1497.01,150.10 L1497.98,150.44 L1498.96,150.79 L1499.94,151.14 L1500.92,151.50 L1501.89,151.87 L1502.87,152.24 L1503.85,152.61 L1504.83,152.99 L1505.80,153.38 L1506.78,153.77 L1507.76,154.17 L1508.74,154.58 L1509.71,154.99 L1510.69,155.41 L1511.67,155.84 L1512.65,156.28 L1513.62,156.72 L1514.60,157.17 L1515.58,157.63 L1516.55,158.10 L1517.53,158.58 L1518.51,159.07 L1519.49,159.56 L1520.46,160.07 L1521.44,160.59 L1522.42,161.11 L1523.40,161.65 L1524.37,162.20 L1525.35,162.75 L1526.33,163.32 L1527.31,163.90 L1528.28,164.49 L1529.26,165.09 L1530.24,165.70 L1531.22,166.32 L1532.19,166.96 L1533.17,167.60 L1534.15,168.26 L1535.13,168.93 L1536.10,169.61 L1537.08,170.31 L1538.06,171.02 L1539.04,171.74 L1540.01,172.48 L1540.99,173.23 L1541.97,173.99 L1542.95,174.77 L1543.92,175.57 L1544.90,176.37 L1545.88,177.20 L1546.85,178.03 L1547.83,178.89 L1548.81,179.75 L1549.79,180.63 L1550.76,181.53 L1551.74,182.44 L1552.72,183.38 L1553.70,184.33 L1554.67,185.29 L1555.65,186.29 L1556.63,187.30 L1557.61,188.34 L1558.58,189.41 L1559.56,190.51 L1560.54,191.64 L1561.52,192.80 L1562.49,194.00 L1563.47,195.23 L1564.45,196.49 L1565.43,197.80 L1566.40,199.14 L1567.38,200.51 L1568.36,201.92 L1569.34,203.36 L1570.31,204.84 L1571.29,206.34 L1572.27,207.88 L1573.25,209.44 L1574.22,211.03 L1575.20,212.64 L1576.18,214.28 L1577.15,215.94 L1578.13,217.62 L1579.11,219.32 L1580.09,221.05 L1581.06,222.80 L1582.04,224.56 L1583.02,226.36 L1584.00,228.17 L1584.97,230.00 L1585.95,231.86 L1586.93,233.74 L1587.91,235.64 L1588.88,237.57 L1589.86,239.51 L1590.84,241.49 L1591.82,243.49 L1592.79,245.51 L1593.77,247.56 L1594.75,249.63 L1595.73,251.74 L1596.70,253.87 L1597.68,256.02 L1598.66,258.21 L1599.64,260.43 L1600.61,262.67 L1601.59,264.95 L1602.57,267.25 L1603.55,269.59 L1604.52,271.96 L1605.50,274.36 L1606.48,276.79 L1607.45,279.26 L1608.43,281.75 L1609.41,284.28 L1610.39,286.85 L1611.36,289.44 L1612.34,292.07 L1613.32,294.74 L1614.30,297.44 L1615.27,300.18 L1616.25,302.95 L1617.23,305.77 L1618.21,308.62 L1619.18,311.52 L1620.16,314.45 L1621.14,317.44 L1622.12,320.46 L1623.09,323.54 L1624.07,326.66 L1625.05,329.82 L1626.03,333.04 L1627.00,336.30 L1627.98,339.60 L1628.96,342.95 L1629.94,346.35 L1630.91,349.79 L1631.89,353.27 L1632.87,356.79 L1633.85,360.35 L1634.82,363.94 L1635.80,367.56 L1636.78,371.21 L1637.75,374.89 L1638.73,378.58 L1639.71,382.30 L1640.69,386.03 L1641.66,389.78 L1642.64,393.55 L1643.62,397.35 L1644.60,401.18 L1645.57,405.03 L1646.55,408.92 L1647.53,412.83 L1648.51,416.76 L1649.48,420.73 L1650.46,424.72 L1651.44,428.75 L1652.42,432.80 L1653.39,436.87 L1654.37,440.97 L1655.35,445.10 L1656.33,449.25 L1657.30,453.44 L1658.28,457.67 L1659.26,461.93 L1660.24,466.24 L1661.21,470.58 L1662.19,474.96 L1663.17,479.36 L1664.15,483.80 L1665.12,488.25 L1666.10,492.74 L1667.08,497.23 L1668.05,501.75 L1669.03,506.28 L1670.01,510.83 L1670.99,515.38 L1671.96,519.99 L1672.94,524.64 L1673.92,529.33 L1674.90,534.05 L1675.87,538.79 L1676.85,543.54 L1677.83,548.31 L1678.81,553.08 L1679.78,557.83 L1680.76,562.58 L1681.74,567.30 L1682.72,571.99 L1683.69,576.65 L1684.67,581.28 L1685.65,585.93 L1686.63,590.59 L1687.60,595.26 L1688.58,599.93 L1689.56,604.59 L1690.54,609.22 L1691.51,613.83 L1692.49,618.40 L1693.47,622.93 L1694.45,627.41 L1695.42,631.82 L1696.40,636.16 L1697.38,640.42 L1698.35,644.60 L1699.33,648.72 L1700.31,652.80 L1701.29,656.84 L1702.26,660.84 L1703.24,664.79 L1704.22,668.70 L1705.20,672.58 L1706.17,676.42 L1707.15,680.22 L1708.13,683.99 L1709.11,687.72 L1710.08,691.41 L1711.06,695.08 L1712.04,698.71 L1713.02,702.31 L1713.99,705.88 L1714.97,709.43 L1715.95,713.03 L1716.93,716.65 L1717.90,720.27 L1718.88,723.83 L1719.86,727.31 L1720.84,730.65 L1721.81,733.83 L1722.79,736.80 L1723.77,739.52 L1724.75,742.04 L1725.72,744.54 L1726.70,746.99 L1727.68,749.38 L1728.65,751.70 L1729.63,753.91 L1730.61,756.01 L1731.59,757.97 L1732.56,759.76 L1733.54,761.38 L1734.52,762.80 L1735.50,764.01 L1736.47,765.00 L1737.45,765.95 L1738.43,766.88 L1739.41,767.77 L1740.38,768.62 L1741.36,769.41 L1742.34,770.13 L1743.32,770.77 L1744.29,771.31 L1745.27,771.75 L1746.25,772.07 L1747.23,772.25 L1748.20,772.30 L1749.18,772.19 L1750.16,771.96 L1751.14,771.59 L1752.11,771.12 L1753.09,770.54 L1754.07,769.87 L1755.05,769.12 L1756.02,768.31 L1757.00,767.44 L1757.98,766.52 L1758.95,765.57 L1759.93,764.60 L1760.91,763.47 L1761.89,762.03 L1762.86,760.32 L1763.84,758.37 L1764.82,756.23 L1765.80,753.93 L1766.77,751.53 L1767.75,749.05 L1768.73,746.55 L1769.71,744.06 L1770.68,741.62 L1771.66,739.26 L1772.64,736.91 L1773.62,734.51 L1774.59,732.08 L1775.57,729.61 L1776.55,727.09 L1777.53,724.52 L1778.50,721.89 L1779.48,719.21 L1780.46,716.46 L1781.44,713.65 L1782.41,710.77 L1783.39,707.81 L1784.37,704.67 L1785.35,701.31 L1786.32,697.80 L1787.30,694.17 L1788.28,690.49 L1789.25,686.81 L1790.23,683.17 L1791.21,679.64 L1792.19,676.26 L1793.16,673.09 L1794.14,670.10 L1795.12,667.14 L1796.10,664.23 L1797.07,661.39 L1798.05,658.64 L1799.03,655.98 L1800.01,653.44 L1800.98,651.02 L1801.96,648.75 L1802.94,646.61 L1803.92,644.48 L1804.89,642.38 L1805.87,640.37 L1806.85,638.51 L1807.83,636.85 L1808.80,635.45 L1809.78,634.37 L1810.76,633.48 L1811.74,632.61 L1812.71,631.79 L1813.69,631.01 L1814.67,630.31 L1815.65,629.70 L1816.62,629.19 L1817.60,628.79 L1818.58,628.52 L1819.55,628.40 L1820.53,628.45 L1821.51,628.69 L1822.49,629.08 L1823.46,629.62 L1824.44,630.28 L1825.42,631.03 L1826.40,631.86 L1827.37,632.74 L1828.35,633.65 L1829.33,634.58 L1830.31,635.68 L1831.28,637.01 L1832.26,638.54 L1833.24,640.22 L1834.22,642.03 L1835.19,643.93 L1836.17,645.88 L1837.15,647.86 L1838.13,649.94 L1839.10,652.18 L1840.08,654.55 L1841.06,657.04 L1842.04,659.63 L1843.01,662.30 L1843.99,665.03 L1844.97,667.81 L1845.95,670.62 L1846.92,673.44 L1847.90,676.26 L1848.88,679.17 L1849.85,682.19 L1850.83,685.29 L1851.81,688.45 L1852.79,691.65 L1853.76,694.86 L1854.74,698.07 L1855.72,701.24 L1856.70,704.35 L1857.67,707.40 L1858.65,710.40 L1859.63,713.48 L1860.61,716.60 L1861.58,719.74 L1862.56,722.86 L1863.54,725.92 L1864.52,728.88 L1865.49,731.72 L1866.47,734.40 L1867.45,736.88 L1868.43,739.13 L1869.40,741.15 L1870.38,743.10 L1871.36,745.02 L1872.34,746.89 L1873.31,748.71 L1874.29,750.47 L1875.27,752.17 L1876.25,753.81 L1877.22,755.37 L1878.20,756.85 L1879.18,758.25 L1880.15,759.56 L1881.13,760.78 L1882.11,761.89 L1883.09,762.89 L1884.06,763.79 L1885.04,764.56 L1886.02,765.27 L1887.00,765.97 L1887.97,766.63 L1888.95,767.27 L1889.93,767.88 L1890.91,768.45 L1891.88,768.97 L1892.86,769.45 L1893.84,769.88 L1894.82,770.25 L1895.79,770.56 L1896.77,770.80 L1897.75,770.97 L1898.73,771.09 L1899.70,771.20 L1900.68,771.30 L1901.66,771.39 L1902.64,771.47 L1903.61,771.54 L1904.59,771.60 L1905.57,771.63 L1906.55,771.65 L1907.52,771.64 L1908.50,771.53 L1909.48,771.34 L1910.45,771.08 L1911.43,770.76 L1912.41,770.41 L1913.39,770.03 L1914.36,769.65 L1915.34,769.27 L1916.32,768.92 L1917.30,768.61 L1918.27,768.35 L1919.25,768.08 L1920.23,767.81 L1921.21,767.52 L1922.18,767.25 L1923.16,767.00 L1924.14,766.78 L1925.12,766.62 L1926.09,766.51 L1927.07,766.47 L1928.05,766.51 L1929.03,766.61 L1930.00,766.76 L1930.98,766.95 L1931.96,767.17 L1932.94,767.42 L1933.91,767.67 L1934.89,767.92 L1935.87,768.16 L1936.85,768.38 L1937.82,768.60 L1938.80,768.84 L1939.78,769.10 L1940.75,769.38 L1941.73,769.67 L1942.71,769.96 L1943.69,770.26 L1944.66,770.55 L1945.64,770.84 L1946.62,771.12 L1947.60,771.38 L1948.57,771.61 L1949.55,771.82 L1950.53,772.00 L1951.51,772.14 L1952.48,772.24 L1953.46,772.29 L1954.44,772.30 L1955.42,772.30 L1956.39,772.30 L1957.37,772.30 L1958.35,772.30 L1959.33,772.30 L1960.30,772.30 L1961.28,772.30 L1962.26,772.30 L1963.24,772.30 L1964.21,772.30 L1965.19,772.30 L1966.17,772.30 L1967.15,772.30 L1968.12,772.30 L1969.10,772.30 L1970.08,772.30 L1971.05,772.30 L1972.03,772.30 L1973.01,772.30 L1973.99,772.30 L1974.96,772.30 L1975.94,772.30 L1976.92,772.30 L1977.90,772.30 L1978.87,772.30 L1979.85,772.30 L1980.83,772.30 L1981.81,772.30 L1982.78,772.30 L1983.76,772.30 L1984.74,772.30 L1985.72,772.30 L1986.69,772.30 L1987.67,772.30 L1988.65,772.30 L1989.63,772.30 L1990.60,772.30 L1991.58,772.30 L1992.56,772.30 L1993.54,772.30 L1994.51,772.30 L1995.49,772.30 L1996.47,772.30 L1997.45,772.30 L1998.42,772.30 L1999.40,772.30 L2000.38,772.30 L2001.35,772.30 L2002.33,772.30 L2003.31,772.30 L2004.29,772.30 L2005.26,772.30 L2006.24,772.30 L2007.22,772.30 L2008.20,772.30 L2009.17,772.30 L2010.15,772.30 L2011.13,772.30 L2012.11,772.30 L2013.08,772.30 L2014.06,772.30 L2015.04,772.30 L2016.02,772.30 L2016.99,772.30 L2017.97,772.30 L2018.95,772.30 L2019.93,772.30 L2020.90,772.30 L2021.88,772.30 L2022.86,772.30 L2023.84,772.30 L2024.81,772.30 L2025.79,772.30 L2026.77,772.30 L2027.75,772.30 L2028.72,772.30 L2029.70,772.30 L2030.68,772.30 L2031.65,772.30 L2032.63,772.30 L2033.61,772.30 L2034.59,772.30 L2035.56,772.30 L2036.54,772.30 L2037.52,772.30 L2038.50,772.30 L2039.47,772.30 L2040.45,772.30 L2041.43,772.30 L2042.41,772.30 L2043.38,772.30 L2044.36,772.30 L2045.34,772.30 L2046.32,772.30 L2047.29,772.30 L2048.27,772.30 L2049.25,772.30 L2050.23,772.30 L2051.20,772.30 L2052.18,772.30 L2053.16,772.30 L2054.14,772.30 L2055.11,772.30 L2056.09,772.30 L2057.07,772.30 L2058.05,772.30 L2059.02,772.30 L2060.00,772.30" fill="none" stroke="#87ceeb" stroke-width="4.0" stroke-linejoin="round" />
<path d="M1181.30,125.61 L1182.28,125.61 L1183.25,125.61 L1184.23,125.61 L1185.21,125.61 L1186.19,125.61 L1187.16,125.62 L1188.14,125.62 L1189.12,125.62 L1190.10,125.62 L1191.07,125.62 L1192.05,125.62 L1193.03,125.62 L1194.01,125.62 L1194.98,125.62 L1195.96,125.62 L1196.94,125.62 L1197.92,125.62 L1198.89,125.62 L1199.87,125.62 L1200.85,125.62 L1201.83,125.62 L1202.80,125.62 L1203.78,125.62 L1204.76,125.62 L1205.74,125.62 L1206.71,125.63 L1207.69,125.63 L1208.67,125.63 L1209.65,125.63 L1210.62,125.63 L1211.60,125.63 L1212.58,125.63 L1213.55,125.63 L1214.53,125.63 L1215.51,125.63 L1216.49,125.63 L1217.46,125.64 L1218.44,125.64 L1219.42,125.64 L1220.40,125.64 L1221.37,125.64 L1222.35,125.64 L1223.33,125.64 L1224.31,125.64 L1225.28,125.65 L1226.26,125.65 L1227.24,125.65 L1228.22,125.65 L1229.19,125.65 L1230.17,125.65 L1231.15,125.65 L1232.13,125.66 L1233.10,125.66 L1234.08,125.66 L1235.06,125.66 L1236.04,125.66 L1237.01,125.66 L1237.99,125.67 L1238.97,125.67 L1239.95,125.67 L1240.92,125.67 L1241.90,125.67 L1242.88,125.67 L1243.85,125.68 L1244.83,125.68 L1245.81,125.68 L1246.79,125.68 L1247.76,125.68 L1248.74,125.69 L1249.72,125.69 L1250.70,125.69 L1251.67,125.69 L1252.65,125.69 L1253.63,125.70 L1254.61,125.70 L1255.58,125.70 L1256.56,125.70 L1257.54,125.70 L1258.52,125.71 L1259.49,125.71 L1260.47,125.71 L1261.45,125.71 L1262.43,125.72 L1263.40,125.72 L1264.38,125.72 L1265.36,125.72 L1266.34,125.73 L1267.31,125.73 L1268.29,125.73 L1269.27,125.73 L1270.25,125.74 L1271.22,125.74 L1272.20,125.74 L1273.18,125.74 L1274.15,125.75 L1275.13,125.75 L1276.11,125.75 L1277.09,125.75 L1278.06,125.76 L1279.04,125.76 L1280.02,125.76 L1281.00,125.77 L1281.97,125.77 L1282.95,125.77 L1283.93,125.77 L1284.91,125.78 L1285.88,125.78 L1286.86,125.78 L1287.84,125.79 L1288.82,125.79 L1289.79,125.79 L1290.77,125.79 L1291.75,125.80 L1292.73,125.80 L1293.70,125.80 L1294.68,125.81 L1295.66,125.81 L1296.64,125.81 L1297.61,125.82 L1298.59,125.82 L1299.57,125.82 L1300.55,125.83 L1301.52,125.83 L1302.50,125.83 L1303.48,125.84 L1304.45,125.84 L1305.43,125.84 L1306.41,125.85 L1307.39,125.85 L1308.36,125.85 L1309.34,125.86 L1310.32,125.86 L1311.30,125.86 L1312.27,125.87 L1313.25,125.87 L1314.23,125.87 L1315.21,125.88 L1316.18,125.88 L1317.16,125.89 L1318.14,125.89 L1319.12,125.89 L1320.09,125.90 L1321.07,125.90 L1322.05,125.90 L1323.03,125.91 L1324.00,125.91 L1324.98,125.92 L1325.96,125.92 L1326.94,125.92 L1327.91,125.93 L1328.89,125.93 L1329.87,125.93 L1330.85,125.94 L1331.82,125.94 L1332.80,125.95 L1333.78,125.95 L1334.75,125.95 L1335.73,125.96 L1336.71,125.96 L1337.69,125.97 L1338.66,125.97 L1339.64,125.97 L1340.62,125.98 L1341.60,125.98 L1342.57,125.99 L1343.55,125.99 L1344.53,126.00 L1345.51,126.00 L1346.48,126.00 L1347.46,126.01 L1348.44,126.01 L1349.42,126.02 L1350.39,126.02 L1351.37,126.03 L1352.35,126.03 L1353.33,126.03 L1354.30,126.04 L1355.28,126.04 L1356.26,126.05 L1357.24,126.05 L1358.21,126.06 L1359.19,126.06 L1360.17,126.07 L1361.15,126.07 L1362.12,126.07 L1363.10,126.08 L1364.08,126.08 L1365.05,126.09 L1366.03,126.09 L1367.01,126.10 L1367.99,126.10 L1368.96,126.11 L1369.94,126.11 L1370.92,126.12 L1371.90,126.12 L1372.87,126.12 L1373.85,126.13 L1374.83,126.13 L1375.81,126.14 L1376.78,126.14 L1377.76,126.15 L1378.74,126.15 L1379.72,126.16 L1380.69,126.16 L1381.67,126.17 L1382.65,126.17 L1383.63,126.18 L1384.60,126.18 L1385.58,126.19 L1386.56,126.19 L1387.54,126.20 L1388.51,126.20 L1389.49,126.21 L1390.47,126.21 L1391.45,126.22 L1392.42,126.22 L1393.40,126.23 L1394.38,126.23 L1395.35,126.24 L1396.33,126.24 L1397.31,126.25 L1398.29,126.25 L1399.26,126.26 L1400.24,126.26 L1401.22,126.27 L1402.20,126.27 L1403.17,126.28 L1404.15,126.29 L1405.13,126.29 L1406.11,126.30 L1407.08,126.30 L1408.06,126.31 L1409.04,126.32 L1410.02,126.32 L1410.99,126.33 L1411.97,126.34 L1412.95,126.34 L1413.93,126.35 L1414.90,126.36 L1415.88,126.36 L1416.86,126.37 L1417.84,126.38 L1418.81,126.39 L1419.79,126.39 L1420.77,126.40 L1421.75,126.41 L1422.72,126.42 L1423.70,126.43 L1424.68,126.44 L1425.65,126.44 L1426.63,126.45 L1427.61,126.46 L1428.59,126.47 L1429.56,126.48 L1430.54,126.49 L1431.52,126.50 L1432.50,126.51 L1433.47,126.52 L1434.45,126.53 L1435.43,126.54 L1436.41,126.55 L1437.38,126.56 L1438.36,126.57 L1439.34,126.58 L1440.32,126.60 L1441.29,126.61 L1442.27,126.62 L1443.25,126.63 L1444.23,126.64 L1445.20,126.65 L1446.18,126.67 L1447.16,126.68 L1448.14,126.69 L1449.11,126.71 L1450.09,126.72 L1451.07,126.73 L1452.05,126.75 L1453.02,126.76 L1454.00,126.77 L1454.98,126.79 L1455.95,126.80 L1456.93,126.82 L1457.91,126.83 L1458.89,126.85 L1459.86,126.86 L1460.84,126.88 L1461.82,126.90 L1462.80,126.91 L1463.77,126.93 L1464.75,126.95 L1465.73,126.96 L1466.71,126.98 L1467.68,127.00 L1468.66,127.01 L1469.64,127.03 L1470.62,127.05 L1471.59,127.07 L1472.57,127.09 L1473.55,127.11 L1474.53,127.13 L1475.50,127.15 L1476.48,127.17 L1477.46,127.19 L1478.44,127.21 L1479.41,127.24 L1480.39,127.26 L1481.37,127.29 L1482.35,127.31 L1483.32,127.34 L1484.30,127.37 L1485.28,127.40 L1486.25,127.43 L1487.23,127.46 L1488.21,127.50 L1489.19,127.54 L1490.16,127.57 L1491.14,127.61 L1492.12,127.65 L1493.10,127.70 L1494.07,127.74 L1495.05,127.78 L1496.03,127.83 L1497.01,127.88 L1497.98,127.93 L1498.96,127.98 L1499.94,128.03 L1500.92,128.09 L1501.89,128.14 L1502.87,128.20 L1503.85,128.26 L1504.83,128.31 L1505.80,128.38 L1506.78,128.44 L1507.76,128.50 L1508.74,128.56 L1509.71,128.63 L1510.69,128.69 L1511.67,128.76 L1512.65,128.83 L1513.62,128.90 L1514.60,128.97 L1515.58,129.04 L1516.55,129.12 L1517.53,129.19 L1518.51,129.26 L1519.49,129.34 L1520.46,129.41 L1521.44,129.49 L1522.42,129.57 L1523.40,129.65 L1524.37,129.73 L1525.35,129.81 L1526.33,129.89 L1527.31,129.97 L1528.28,130.06 L1529.26,130.14 L1530.24,130.23 L1531.22,130.31 L1532.19,130.40 L1533.17,130.49 L1534.15,130.58 L1535.13,130.67 L1536.10,130.76 L1537.08,130.85 L1538.06,130.95 L1539.04,131.05 L1540.01,131.15 L1540.99,131.25 L1541.97,131.36 L1542.95,131.46 L1543.92,131.57 L1544.90,131.69 L1545.88,131.80 L1546.85,131.92 L1547.83,132.05 L1548.81,132.17 L1549.79,132.30 L1550.76,132.43 L1551.74,132.56 L1552.72,132.70 L1553.70,132.84 L1554.67,132.98 L1555.65,133.12 L1556.63,133.27 L1557.61,133.42 L1558.58,133.57 L1559.56,133.72 L1560.54,133.88 L1561.52,134.04 L1562.49,134.20 L1563.47,134.36 L1564.45,134.53 L1565.43,134.69 L1566.40,134.86 L1567.38,135.03 L1568.36,135.21 L1569.34,135.38 L1570.31,135.56 L1571.29,135.74 L1572.27,135.93 L1573.25,136.11 L1574.22,136.30 L1575.20,136.50 L1576.18,136.69 L1577.15,136.89 L1578.13,137.09 L1579.11,137.30 L1580.09,137.51 L1581.06,137.73 L1582.04,137.95 L1583.02,138.18 L1584.00,138.41 L1584.97,138.64 L1585.95,138.89 L1586.93,139.13 L1587.91,139.38 L1588.88,139.63 L1589.86,139.89 L1590.84,140.16 L1591.82,140.43 L1592.79,140.70 L1593.77,140.98 L1594.75,141.26 L1595.73,141.55 L1596.70,141.84 L1597.68,142.13 L1598.66,142.44 L1599.64,142.74 L1600.61,143.05 L1601.59,143.37 L1602.57,143.69 L1603.55,144.02 L1604.52,144.36 L1605.50,144.70 L1606.48,145.04 L1607.45,145.39 L1608.43,145.75 L1609.41,146.12 L1610.39,146.48 L1611.36,146.86 L1612.34,147.24 L1613.32,147.63 L1614.30,148.02 L1615.27,148.42 L1616.25,148.83 L1617.23,149.24 L1618.21,149.67 L1619.18,150.09 L1620.16,150.53 L1621.14,150.97 L1622.12,151.43 L1623.09,151.89 L1624.07,152.36 L1625.05,152.84 L1626.03,153.33 L1627.00,153.83 L1627.98,154.34 L1628.96,154.86 L1629.94,155.40 L1630.91,155.95 L1631.89,156.51 L1632.87,157.08 L1633.85,157.67 L1634.82,158.27 L1635.80,158.88 L1636.78,159.51 L1637.75,160.15 L1638.73,160.80 L1639.71,161.47 L1640.69,162.15 L1641.66,162.85 L1642.64,163.56 L1643.62,164.29 L1644.60,165.03 L1645.57,165.78 L1646.55,166.55 L1647.53,167.34 L1648.51,168.13 L1649.48,168.94 L1650.46,169.77 L1651.44,170.61 L1652.42,171.47 L1653.39,172.34 L1654.37,173.22 L1655.35,174.12 L1656.33,175.03 L1657.30,175.96 L1658.28,176.90 L1659.26,177.86 L1660.24,178.83 L1661.21,179.82 L1662.19,180.82 L1663.17,181.84 L1664.15,182.87 L1665.12,183.92 L1666.10,184.99 L1667.08,186.07 L1668.05,187.18 L1669.03,188.30 L1670.01,189.44 L1670.99,190.61 L1671.96,191.79 L1672.94,193.00 L1673.92,194.24 L1674.90,195.49 L1675.87,196.77 L1676.85,198.08 L1677.83,199.41 L1678.81,200.77 L1679.78,202.16 L1680.76,203.57 L1681.74,205.01 L1682.72,206.47 L1683.69,207.96 L1684.67,209.48 L1685.65,211.02 L1686.63,212.59 L1687.60,214.18 L1688.58,215.80 L1689.56,217.44 L1690.54,219.11 L1691.51,220.80 L1692.49,222.52 L1693.47,224.26 L1694.45,226.02 L1695.42,227.81 L1696.40,229.62 L1697.38,231.45 L1698.35,233.30 L1699.33,235.18 L1700.31,237.08 L1701.29,239.01 L1702.26,240.96 L1703.24,242.93 L1704.22,244.94 L1705.20,246.97 L1706.17,249.03 L1707.15,251.13 L1708.13,253.25 L1709.11,255.42 L1710.08,257.63 L1711.06,259.87 L1712.04,262.16 L1713.02,264.49 L1713.99,266.87 L1714.97,269.29 L1715.95,271.75 L1716.93,274.27 L1717.90,276.82 L1718.88,279.42 L1719.86,282.07 L1720.84,284.75 L1721.81,287.47 L1722.79,290.23 L1723.77,293.02 L1724.75,295.85 L1725.72,298.71 L1726.70,301.60 L1727.68,304.52 L1728.65,307.48 L1729.63,310.46 L1730.61,313.47 L1731.59,316.51 L1732.56,319.57 L1733.54,322.67 L1734.52,325.80 L1735.50,328.96 L1736.47,332.15 L1737.45,335.38 L1738.43,338.64 L1739.41,341.93 L1740.38,345.26 L1741.36,348.62 L1742.34,352.01 L1743.32,355.45 L1744.29,358.91 L1745.27,362.42 L1746.25,365.96 L1747.23,369.53 L1748.20,373.13 L1749.18,376.77 L1750.16,380.44 L1751.14,384.15 L1752.11,387.88 L1753.09,391.66 L1754.07,395.48 L1755.05,399.34 L1756.02,403.25 L1757.00,407.20 L1757.98,411.19 L1758.95,415.23 L1759.93,419.30 L1760.91,423.40 L1761.89,427.54 L1762.86,431.71 L1763.84,435.90 L1764.82,440.12 L1765.80,444.35 L1766.77,448.59 L1767.75,452.86 L1768.73,457.18 L1769.71,461.54 L1770.68,465.94 L1771.66,470.38 L1772.64,474.85 L1773.62,479.35 L1774.59,483.87 L1775.57,488.40 L1776.55,492.94 L1777.53,497.48 L1778.50,502.02 L1779.48,506.55 L1780.46,511.07 L1781.44,515.57 L1782.41,520.08 L1783.39,524.59 L1784.37,529.09 L1785.35,533.61 L1786.32,538.12 L1787.30,542.65 L1788.28,547.17 L1789.25,551.71 L1790.23,556.25 L1791.21,560.81 L1792.19,565.37 L1793.16,569.95 L1794.14,574.53 L1795.12,579.13 L1796.10,583.78 L1797.07,588.47 L1798.05,593.20 L1799.03,597.95 L1800.01,602.71 L1800.98,607.48 L1801.96,612.24 L1802.94,616.99 L1803.92,621.70 L1804.89,626.38 L1805.87,631.00 L1806.85,635.56 L1807.83,640.05 L1808.80,644.45 L1809.78,648.84 L1810.76,653.24 L1811.74,657.62 L1812.71,661.98 L1813.69,666.32 L1814.67,670.62 L1815.65,674.88 L1816.62,679.10 L1817.60,683.25 L1818.58,687.34 L1819.55,691.35 L1820.53,695.28 L1821.51,699.13 L1822.49,702.87 L1823.46,706.50 L1824.44,710.03 L1825.42,713.49 L1826.40,716.88 L1827.37,720.20 L1828.35,723.44 L1829.33,726.60 L1830.31,729.67 L1831.28,732.65 L1832.26,735.53 L1833.24,738.31 L1834.22,740.99 L1835.19,743.70 L1836.17,746.44 L1837.15,749.16 L1838.13,751.81 L1839.10,754.36 L1840.08,756.76 L1841.06,758.95 L1842.04,760.90 L1843.01,762.56 L1843.99,763.87 L1844.97,765.00 L1845.95,766.10 L1846.92,767.16 L1847.90,768.17 L1848.88,769.10 L1849.85,769.95 L1850.83,770.69 L1851.81,771.31 L1852.79,771.80 L1853.76,772.13 L1854.74,772.29 L1855.72,772.26 L1856.70,772.07 L1857.67,771.72 L1858.65,771.23 L1859.63,770.63 L1860.61,769.92 L1861.58,769.12 L1862.56,768.25 L1863.54,767.33 L1864.52,766.37 L1865.49,765.39 L1866.47,764.41 L1867.45,763.43 L1868.43,762.38 L1869.40,761.23 L1870.38,759.98 L1871.36,758.64 L1872.34,757.20 L1873.31,755.66 L1874.29,754.02 L1875.27,752.28 L1876.25,750.43 L1877.22,748.47 L1878.20,746.41 L1879.18,744.23 L1880.15,741.95 L1881.13,739.53 L1882.11,736.60 L1883.09,733.10 L1884.06,729.17 L1885.04,724.94 L1886.02,720.56 L1887.00,716.17 L1887.97,711.90 L1888.95,707.88 L1889.93,703.98 L1890.91,700.05 L1891.88,696.09 L1892.86,692.16 L1893.84,688.28 L1894.82,684.47 L1895.79,680.78 L1896.77,677.24 L1897.75,673.88 L1898.73,670.70 L1899.70,667.68 L1900.68,664.74 L1901.66,661.85 L1902.64,658.93 L1903.61,655.95 L1904.59,652.83 L1905.57,649.53 L1906.55,646.05 L1907.52,642.46 L1908.50,638.85 L1909.48,635.28 L1910.45,631.83 L1911.43,628.57 L1912.41,625.58 L1913.39,622.80 L1914.36,620.07 L1915.34,617.43 L1916.32,614.95 L1917.30,612.68 L1918.27,610.68 L1919.25,609.03 L1920.23,607.53 L1921.21,606.04 L1922.18,604.59 L1923.16,603.20 L1924.14,601.91 L1925.12,600.74 L1926.09,599.73 L1927.07,598.91 L1928.05,598.30 L1929.03,597.94 L1930.00,597.85 L1930.98,598.06 L1931.96,598.53 L1932.94,599.24 L1933.91,600.16 L1934.89,601.24 L1935.87,602.47 L1936.85,603.81 L1937.82,605.23 L1938.80,606.69 L1939.78,608.17 L1940.75,609.66 L1941.73,611.37 L1942.71,613.35 L1943.69,615.55 L1944.66,617.94 L1945.64,620.48 L1946.62,623.14 L1947.60,625.88 L1948.57,628.95 L1949.55,632.33 L1950.53,635.94 L1951.51,639.69 L1952.48,643.49 L1953.46,647.23 L1954.44,650.83 L1955.42,654.21 L1956.39,657.42 L1957.37,660.52 L1958.35,663.59 L1959.33,666.68 L1960.30,669.86 L1961.28,673.18 L1962.26,676.72 L1963.24,680.52 L1964.21,684.54 L1965.19,688.70 L1966.17,692.93 L1967.15,697.16 L1968.12,701.32 L1969.10,705.34 L1970.08,709.15 L1971.05,712.93 L1972.03,716.71 L1973.01,720.46 L1973.99,724.14 L1974.96,727.73 L1975.94,731.17 L1976.92,734.45 L1977.90,737.51 L1978.87,740.33 L1979.85,743.06 L1980.83,745.79 L1981.81,748.49 L1982.78,751.13 L1983.76,753.67 L1984.74,756.07 L1985.72,758.30 L1986.69,760.32 L1987.67,762.11 L1988.65,763.62 L1989.63,764.81 L1990.60,765.73 L1991.58,766.59 L1992.56,767.42 L1993.54,768.22 L1994.51,768.96 L1995.49,769.65 L1996.47,770.28 L1997.45,770.84 L1998.42,771.32 L1999.40,771.71 L2000.38,772.01 L2001.35,772.21 L2002.33,772.30 L2003.31,772.25 L2004.29,772.03 L2005.26,771.66 L2006.24,771.15 L2007.22,770.51 L2008.20,769.77 L2009.17,768.94 L2010.15,768.04 L2011.13,767.08 L2012.11,766.10 L2013.08,765.09 L2014.06,763.72 L2015.04,761.93 L2016.02,760.04 L2016.99,758.32 L2017.97,757.01 L2018.95,755.82 L2019.93,754.68 L2020.90,753.61 L2021.88,752.64 L2022.86,751.76 L2023.84,751.01 L2024.81,750.39 L2025.79,749.88 L2026.77,749.37 L2027.75,748.89 L2028.72,748.44 L2029.70,748.03 L2030.68,747.68 L2031.65,747.39 L2032.63,747.19 L2033.61,747.07 L2034.59,747.06 L2035.56,747.16 L2036.54,747.35 L2037.52,747.63 L2038.50,747.99 L2039.47,748.41 L2040.45,748.88 L2041.43,749.40 L2042.41,749.95 L2043.38,750.55 L2044.36,751.44 L2045.34,752.61 L2046.32,753.97 L2047.29,755.40 L2048.27,756.83 L2049.25,758.16 L2050.23,759.31 L2051.20,760.44 L2052.18,761.54 L2053.16,762.63 L2054.14,763.70 L2055.11,764.76 L2056.09,765.79 L2057.07,766.80 L2058.05,767.80 L2059.02,768.77 L2060.00,769.71" fill="none" stroke="#1e90ff" stroke-width="4.0" stroke-linejoin="round" />
<path d="M1181.30,124.97 L1182.28,124.97 L1183.25,124.97 L1184.23,124.97 L1185.21,124.97 L1186.19,124.97 L1187.16,124.97 L1188.14,124.97 L1189.12,124.97 L1190.10,124.97 L1191.07,124.97 L1192.05,124.97 L1193.03,124.97 L1194.01,124.97 L1194.98,124.97 L1195.96,124.97 L1196.94,124.97 L1197.92,124.97 L1198.89,124.97 L1199.87,124.97 L1200.85,124.97 L1201.83,124.97 L1202.80,124.97 L1203.78,124.97 L1204.76,124.97 L1205.74,124.97 L1206.71,124.97 L1207.69,124.97 L1208.67,124.97 L1209.65,124.97 L1210.62,124.97 L1211.60,124.97 L1212.58,124.97 L1213.55,124.97 L1214.53,124.97 L1215.51,124.97 L1216.49,124.97 L1217.46,124.97 L1218.44,124.97 L1219.42,124.97 L1220.40,124.97 L1221.37,124.97 L1222.35,124.97 L1223.33,124.97 L1224.31,124.97 L1225.28,124.97 L1226.26,124.97 L1227.24,124.97 L1228.22,124.97 L1229.19,124.97 L1230.17,124.97 L1231.15,124.97 L1232.13,124.97 L1233.10,124.97 L1234.08,124.97 L1235.06,124.97 L1236.04,124.97 L1237.01,124.97 L1237.99,124.97 L1238.97,124.98 L1239.95,124.98 L1240.92,124.98 L1241.90,124.98 L1242.88,124.98 L1243.85,124.98 L1244.83,124.98 L1245.81,124.98 L1246.79,124.98 L1247.76,124.98 L1248.74,124.98 L1249.72,124.98 L1250.70,124.98 L1251.67,124.98 L1252.65,124.98 L1253.63,124.98 L1254.61,124.98 L1255.58,124.98 L1256.56,124.98 L1257.54,124.98 L1258.52,124.98 L1259.49,124.98 L1260.47,124.98 L1261.45,124.98 L1262.43,124.98 L1263.40,124.98 L1264.38,124.99 L1265.36,124.99 L1266.34,124.99 L1267.31,124.99 L1268.29,124.99 L1269.27,124.99 L1270.25,124.99 L1271.22,124.99 L1272.20,124.99 L1273.18,124.99 L1274.15,124.99 L1275.13,124.99 L1276.11,124.99 L1277.09,124.99 L1278.06,124.99 L1279.04,124.99 L1280.02,124.99 L1281.00,124.99 L1281.97,124.99 L1282.95,124.99 L1283.93,125.00 L1284.91,125.00 L1285.88,125.00 L1286.86,125.00 L1287.84,125.00 L1288.82,125.00 L1289.79,125.00 L1290.77,125.00 L1291.75,125.00 L1292.73,125.00 L1293.70,125.00 L1294.68,125.00 L1295.66,125.00 L1296.64,125.00 L1297.61,125.00 L1298.59,125.01 L1299.57,125.01 L1300.55,125.01 L1301.52,125.01 L1302.50,125.01 L1303.48,125.01 L1304.45,125.01 L1305.43,125.01 L1306.41,125.01 L1307.39,125.01 L1308.36,125.01 L1309.34,125.01 L1310.32,125.01 L1311.30,125.02 L1312.27,125.02 L1313.25,125.02 L1314.23,125.02 L1315.21,125.02 L1316.18,125.02 L1317.16,125.02 L1318.14,125.02 L1319.12,125.02 L1320.09,125.02 L1321.07,125.02 L1322.05,125.02 L1323.03,125.03 L1324.00,125.03 L1324.98,125.03 L1325.96,125.03 L1326.94,125.03 L1327.91,125.03 L1328.89,125.03 L1329.87,125.03 L1330.85,125.03 L1331.82,125.03 L1332.80,125.03 L1333.78,125.04 L1334.75,125.04 L1335.73,125.04 L1336.71,125.04 L1337.69,125.04 L1338.66,125.04 L1339.64,125.04 L1340.62,125.04 L1341.60,125.04 L1342.57,125.04 L1343.55,125.05 L1344.53,125.05 L1345.51,125.05 L1346.48,125.05 L1347.46,125.05 L1348.44,125.05 L1349.42,125.05 L1350.39,125.05 L1351.37,125.05 L1352.35,125.06 L1353.33,125.06 L1354.30,125.06 L1355.28,125.06 L1356.26,125.06 L1357.24,125.06 L1358.21,125.06 L1359.19,125.06 L1360.17,125.07 L1361.15,125.07 L1362.12,125.07 L1363.10,125.07 L1364.08,125.07 L1365.05,125.07 L1366.03,125.07 L1367.01,125.07 L1367.99,125.08 L1368.96,125.08 L1369.94,125.08 L1370.92,125.08 L1371.90,125.08 L1372.87,125.08 L1373.85,125.08 L1374.83,125.08 L1375.81,125.09 L1376.78,125.09 L1377.76,125.09 L1378.74,125.09 L1379.72,125.09 L1380.69,125.09 L1381.67,125.09 L1382.65,125.10 L1383.63,125.10 L1384.60,125.10 L1385.58,125.10 L1386.56,125.10 L1387.54,125.10 L1388.51,125.10 L1389.49,125.11 L1390.47,125.11 L1391.45,125.11 L1392.42,125.11 L1393.40,125.11 L1394.38,125.11 L1395.35,125.12 L1396.33,125.12 L1397.31,125.12 L1398.29,125.12 L1399.26,125.12 L1400.24,125.12 L1401.22,125.12 L1402.20,125.13 L1403.17,125.13 L1404.15,125.13 L1405.13,125.13 L1406.11,125.13 L1407.08,125.13 L1408.06,125.14 L1409.04,125.14 L1410.02,125.14 L1410.99,125.14 L1411.97,125.14 L1412.95,125.15 L1413.93,125.15 L1414.90,125.15 L1415.88,125.15 L1416.86,125.15 L1417.84,125.15 L1418.81,125.16 L1419.79,125.16 L1420.77,125.16 L1421.75,125.16 L1422.72,125.16 L1423.70,125.16 L1424.68,125.17 L1425.65,125.17 L1426.63,125.17 L1427.61,125.17 L1428.59,125.17 L1429.56,125.18 L1430.54,125.18 L1431.52,125.18 L1432.50,125.18 L1433.47,125.18 L1434.45,125.19 L1435.43,125.19 L1436.41,125.19 L1437.38,125.19 L1438.36,125.19 L1439.34,125.20 L1440.32,125.20 L1441.29,125.20 L1442.27,125.20 L1443.25,125.20 L1444.23,125.21 L1445.20,125.21 L1446.18,125.21 L1447.16,125.21 L1448.14,125.21 L1449.11,125.22 L1450.09,125.22 L1451.07,125.22 L1452.05,125.22 L1453.02,125.23 L1454.00,125.23 L1454.98,125.23 L1455.95,125.23 L1456.93,125.23 L1457.91,125.24 L1458.89,125.24 L1459.86,125.24 L1460.84,125.24 L1461.82,125.25 L1462.80,125.25 L1463.77,125.25 L1464.75,125.25 L1465.73,125.26 L1466.71,125.26 L1467.68,125.26 L1468.66,125.26 L1469.64,125.26 L1470.62,125.27 L1471.59,125.27 L1472.57,125.27 L1473.55,125.28 L1474.53,125.28 L1475.50,125.28 L1476.48,125.29 L1477.46,125.29 L1478.44,125.29 L1479.41,125.30 L1480.39,125.31 L1481.37,125.31 L1482.35,125.32 L1483.32,125.33 L1484.30,125.34 L1485.28,125.34 L1486.25,125.36 L1487.23,125.37 L1488.21,125.38 L1489.19,125.39 L1490.16,125.41 L1491.14,125.42 L1492.12,125.44 L1493.10,125.46 L1494.07,125.48 L1495.05,125.50 L1496.03,125.52 L1497.01,125.54 L1497.98,125.57 L1498.96,125.59 L1499.94,125.61 L1500.92,125.64 L1501.89,125.67 L1502.87,125.70 L1503.85,125.72 L1504.83,125.75 L1505.80,125.78 L1506.78,125.81 L1507.76,125.85 L1508.74,125.88 L1509.71,125.91 L1510.69,125.95 L1511.67,125.98 L1512.65,126.01 L1513.62,126.05 L1514.60,126.09 L1515.58,126.12 L1516.55,126.16 L1517.53,126.20 L1518.51,126.24 L1519.49,126.28 L1520.46,126.31 L1521.44,126.35 L1522.42,126.39 L1523.40,126.43 L1524.37,126.48 L1525.35,126.52 L1526.33,126.56 L1527.31,126.60 L1528.28,126.64 L1529.26,126.68 L1530.24,126.73 L1531.22,126.77 L1532.19,126.81 L1533.17,126.85 L1534.15,126.90 L1535.13,126.94 L1536.10,126.98 L1537.08,127.02 L1538.06,127.07 L1539.04,127.11 L1540.01,127.15 L1540.99,127.20 L1541.97,127.24 L1542.95,127.28 L1543.92,127.32 L1544.90,127.37 L1545.88,127.41 L1546.85,127.45 L1547.83,127.49 L1548.81,127.54 L1549.79,127.58 L1550.76,127.62 L1551.74,127.66 L1552.72,127.70 L1553.70,127.74 L1554.67,127.78 L1555.65,127.82 L1556.63,127.86 L1557.61,127.90 L1558.58,127.94 L1559.56,127.98 L1560.54,128.02 L1561.52,128.06 L1562.49,128.10 L1563.47,128.14 L1564.45,128.18 L1565.43,128.22 L1566.40,128.26 L1567.38,128.31 L1568.36,128.35 L1569.34,128.39 L1570.31,128.43 L1571.29,128.47 L1572.27,128.52 L1573.25,128.56 L1574.22,128.60 L1575.20,128.65 L1576.18,128.69 L1577.15,128.73 L1578.13,128.78 L1579.11,128.82 L1580.09,128.87 L1581.06,128.92 L1582.04,128.96 L1583.02,129.01 L1584.00,129.06 L1584.97,129.11 L1585.95,129.16 L1586.93,129.21 L1587.91,129.26 L1588.88,129.31 L1589.86,129.36 L1590.84,129.41 L1591.82,129.47 L1592.79,129.52 L1593.77,129.57 L1594.75,129.63 L1595.73,129.68 L1596.70,129.74 L1597.68,129.80 L1598.66,129.85 L1599.64,129.91 L1600.61,129.97 L1601.59,130.02 L1602.57,130.08 L1603.55,130.14 L1604.52,130.20 L1605.50,130.26 L1606.48,130.32 L1607.45,130.38 L1608.43,130.44 L1609.41,130.51 L1610.39,130.57 L1611.36,130.64 L1612.34,130.70 L1613.32,130.77 L1614.30,130.84 L1615.27,130.91 L1616.25,130.98 L1617.23,131.06 L1618.21,131.13 L1619.18,131.21 L1620.16,131.29 L1621.14,131.37 L1622.12,131.46 L1623.09,131.54 L1624.07,131.63 L1625.05,131.72 L1626.03,131.82 L1627.00,131.92 L1627.98,132.02 L1628.96,132.12 L1629.94,132.23 L1630.91,132.35 L1631.89,132.46 L1632.87,132.59 L1633.85,132.72 L1634.82,132.86 L1635.80,133.00 L1636.78,133.16 L1637.75,133.32 L1638.73,133.49 L1639.71,133.66 L1640.69,133.85 L1641.66,134.05 L1642.64,134.25 L1643.62,134.46 L1644.60,134.68 L1645.57,134.90 L1646.55,135.13 L1647.53,135.37 L1648.51,135.62 L1649.48,135.87 L1650.46,136.12 L1651.44,136.38 L1652.42,136.65 L1653.39,136.91 L1654.37,137.18 L1655.35,137.46 L1656.33,137.74 L1657.30,138.02 L1658.28,138.31 L1659.26,138.60 L1660.24,138.89 L1661.21,139.19 L1662.19,139.49 L1663.17,139.80 L1664.15,140.11 L1665.12,140.42 L1666.10,140.74 L1667.08,141.07 L1668.05,141.39 L1669.03,141.73 L1670.01,142.06 L1670.99,142.40 L1671.96,142.75 L1672.94,143.10 L1673.92,143.46 L1674.90,143.82 L1675.87,144.18 L1676.85,144.55 L1677.83,144.92 L1678.81,145.30 L1679.78,145.69 L1680.76,146.07 L1681.74,146.47 L1682.72,146.86 L1683.69,147.27 L1684.67,147.67 L1685.65,148.09 L1686.63,148.50 L1687.60,148.93 L1688.58,149.36 L1689.56,149.80 L1690.54,150.24 L1691.51,150.69 L1692.49,151.15 L1693.47,151.62 L1694.45,152.10 L1695.42,152.59 L1696.40,153.09 L1697.38,153.61 L1698.35,154.13 L1699.33,154.67 L1700.31,155.22 L1701.29,155.79 L1702.26,156.36 L1703.24,156.95 L1704.22,157.55 L1705.20,158.16 L1706.17,158.78 L1707.15,159.42 L1708.13,160.06 L1709.11,160.71 L1710.08,161.37 L1711.06,162.04 L1712.04,162.72 L1713.02,163.41 L1713.99,164.10 L1714.97,164.81 L1715.95,165.52 L1716.93,166.24 L1717.90,166.97 L1718.88,167.72 L1719.86,168.47 L1720.84,169.23 L1721.81,170.00 L1722.79,170.79 L1723.77,171.58 L1724.75,172.39 L1725.72,173.21 L1726.70,174.04 L1727.68,174.88 L1728.65,175.73 L1729.63,176.60 L1730.61,177.49 L1731.59,178.38 L1732.56,179.29 L1733.54,180.22 L1734.52,181.16 L1735.50,182.12 L1736.47,183.10 L1737.45,184.09 L1738.43,185.10 L1739.41,186.13 L1740.38,187.18 L1741.36,188.26 L1742.34,189.35 L1743.32,190.47 L1744.29,191.62 L1745.27,192.79 L1746.25,193.98 L1747.23,195.21 L1748.20,196.46 L1749.18,197.74 L1750.16,199.05 L1751.14,200.39 L1752.11,201.76 L1753.09,203.15 L1754.07,204.58 L1755.05,206.03 L1756.02,207.52 L1757.00,209.03 L1757.98,210.57 L1758.95,212.13 L1759.93,213.73 L1760.91,215.35 L1761.89,216.99 L1762.86,218.66 L1763.84,220.35 L1764.82,222.07 L1765.80,223.81 L1766.77,225.58 L1767.75,227.36 L1768.73,229.17 L1769.71,231.00 L1770.68,232.85 L1771.66,234.73 L1772.64,236.62 L1773.62,238.53 L1774.59,240.47 L1775.57,242.43 L1776.55,244.41 L1777.53,246.42 L1778.50,248.45 L1779.48,250.51 L1780.46,252.59 L1781.44,254.71 L1782.41,256.86 L1783.39,259.05 L1784.37,261.27 L1785.35,263.53 L1786.32,265.83 L1787.30,268.17 L1788.28,270.55 L1789.25,272.96 L1790.23,275.42 L1791.21,277.92 L1792.19,280.46 L1793.16,283.04 L1794.14,285.66 L1795.12,288.31 L1796.10,291.00 L1797.07,293.73 L1798.05,296.49 L1799.03,299.28 L1800.01,302.10 L1800.98,304.96 L1801.96,307.85 L1802.94,310.78 L1803.92,313.74 L1804.89,316.73 L1805.87,319.76 L1806.85,322.83 L1807.83,325.93 L1808.80,329.06 L1809.78,332.24 L1810.76,335.45 L1811.74,338.70 L1812.71,341.98 L1813.69,345.31 L1814.67,348.67 L1815.65,352.06 L1816.62,355.49 L1817.60,358.95 L1818.58,362.45 L1819.55,365.97 L1820.53,369.52 L1821.51,373.10 L1822.49,376.70 L1823.46,380.32 L1824.44,383.96 L1825.42,387.62 L1826.40,391.30 L1827.37,395.00 L1828.35,398.72 L1829.33,402.46 L1830.31,406.24 L1831.28,410.04 L1832.26,413.87 L1833.24,417.74 L1834.22,421.65 L1835.19,425.60 L1836.17,429.60 L1837.15,433.64 L1838.13,437.73 L1839.10,441.88 L1840.08,446.09 L1841.06,450.37 L1842.04,454.76 L1843.01,459.28 L1843.99,463.93 L1844.97,468.67 L1845.95,473.49 L1846.92,478.38 L1847.90,483.30 L1848.88,488.24 L1849.85,493.17 L1850.83,498.08 L1851.81,502.94 L1852.79,507.74 L1853.76,512.46 L1854.74,517.11 L1855.72,521.72 L1856.70,526.31 L1857.67,530.87 L1858.65,535.42 L1859.63,539.94 L1860.61,544.46 L1861.58,548.97 L1862.56,553.47 L1863.54,557.97 L1864.52,562.47 L1865.49,566.97 L1866.47,571.48 L1867.45,576.01 L1868.43,580.54 L1869.40,585.10 L1870.38,589.67 L1871.36,594.26 L1872.34,598.84 L1873.31,603.43 L1874.29,608.02 L1875.27,612.59 L1876.25,617.16 L1877.22,621.71 L1878.20,626.23 L1879.18,630.73 L1880.15,635.20 L1881.13,639.64 L1882.11,644.03 L1883.09,648.45 L1884.06,652.89 L1885.04,657.36 L1886.02,661.83 L1887.00,666.29 L1887.97,670.74 L1888.95,675.15 L1889.93,679.51 L1890.91,683.81 L1891.88,688.04 L1892.86,692.18 L1893.84,696.22 L1894.82,700.15 L1895.79,703.95 L1896.77,707.61 L1897.75,711.14 L1898.73,714.58 L1899.70,717.92 L1900.68,721.18 L1901.66,724.36 L1902.64,727.45 L1903.61,730.47 L1904.59,733.42 L1905.57,736.30 L1906.55,739.12 L1907.52,741.92 L1908.50,744.80 L1909.48,747.73 L1910.45,750.62 L1911.43,753.42 L1912.41,756.06 L1913.39,758.46 L1914.36,760.56 L1915.34,762.31 L1916.32,763.64 L1917.30,764.85 L1918.27,766.03 L1919.25,767.16 L1920.23,768.22 L1921.21,769.19 L1922.18,770.07 L1923.16,770.82 L1924.14,771.44 L1925.12,771.90 L1926.09,772.19 L1927.07,772.30 L1928.05,772.21 L1929.03,771.94 L1930.00,771.50 L1930.98,770.92 L1931.96,770.22 L1932.94,769.41 L1933.91,768.52 L1934.89,767.56 L1935.87,766.55 L1936.85,765.52 L1937.82,764.48 L1938.80,763.44 L1939.78,762.41 L1940.75,761.31 L1941.73,760.14 L1942.71,758.89 L1943.69,757.55 L1944.66,756.13 L1945.64,754.62 L1946.62,753.01 L1947.60,751.31 L1948.57,749.50 L1949.55,747.58 L1950.53,745.55 L1951.51,743.40 L1952.48,741.13 L1953.46,738.65 L1954.44,735.58 L1955.42,732.01 L1956.39,728.04 L1957.37,723.80 L1958.35,719.41 L1959.33,714.98 L1960.30,710.64 L1961.28,706.47 L1962.26,702.23 L1963.24,697.89 L1964.21,693.49 L1965.19,689.07 L1966.17,684.67 L1967.15,680.35 L1968.12,676.14 L1969.10,672.04 L1970.08,667.98 L1971.05,663.96 L1972.03,659.98 L1973.01,656.04 L1973.99,652.15 L1974.96,648.32 L1975.94,644.55 L1976.92,640.84 L1977.90,637.20 L1978.87,633.61 L1979.85,630.06 L1980.83,626.57 L1981.81,623.12 L1982.78,619.72 L1983.76,616.38 L1984.74,613.10 L1985.72,609.88 L1986.69,606.73 L1987.67,603.56 L1988.65,600.34 L1989.63,597.16 L1990.60,594.15 L1991.58,591.40 L1992.56,589.04 L1993.54,586.97 L1994.51,584.88 L1995.49,582.83 L1996.47,580.94 L1997.45,579.33 L1998.42,578.10 L1999.40,577.36 L2000.38,577.19 L2001.35,577.19 L2002.33,577.19 L2003.31,577.19 L2004.29,577.19 L2005.26,577.19 L2006.24,577.19 L2007.22,577.19 L2008.20,577.19 L2009.17,577.26 L2010.15,577.76 L2011.13,578.70 L2012.11,580.00 L2013.08,581.57 L2014.06,583.35 L2015.04,585.24 L2016.02,587.18 L2016.99,589.11 L2017.97,591.33 L2018.95,593.91 L2019.93,596.78 L2020.90,599.87 L2021.88,603.12 L2022.86,606.47 L2023.84,609.84 L2024.81,613.27 L2025.79,616.90 L2026.77,620.71 L2027.75,624.65 L2028.72,628.71 L2029.70,632.84 L2030.68,637.01 L2031.65,641.20 L2032.63,645.43 L2033.61,649.78 L2034.59,654.24 L2035.56,658.76 L2036.54,663.29 L2037.52,667.81 L2038.50,672.26 L2039.47,676.60 L2040.45,680.77 L2041.43,684.83 L2042.41,688.83 L2043.38,692.86 L2044.36,696.97 L2045.34,701.24 L2046.32,705.75 L2047.29,710.65 L2048.27,716.21 L2049.25,721.72 L2050.23,726.52 L2051.20,731.14 L2052.18,735.65 L2053.16,740.04 L2054.14,744.30 L2055.11,748.40 L2056.09,752.32 L2057.07,756.04 L2058.05,759.55 L2059.02,762.81 L2060.00,765.83" fill="none" stroke="#191970" stroke-width="4.0" stroke-linejoin="round" />
<path d="M1035.90,125.04 L1037.13,125.04 L1038.36,125.04 L1039.59,125.04 L1040.82,125.04 L1042.05,125.04 L1043.28,125.04 L1044.51,125.04 L1045.74,125.05 L1046.97,125.05 L1048.20,125.05 L1049.43,125.05 L1050.66,125.05 L1051.89,125.05 L1053.12,125.05 L1054.35,125.06 L1055.59,125.06 L1056.82,125.06 L1058.05,125.06 L1059.28,125.06 L1060.51,125.06 L1061.74,125.07 L1062.97,125.07 L1064.20,125.07 L1065.43,125.07 L1066.66,125.07 L1067.89,125.08 L1069.12,125.08 L1070.35,125.08 L1071.58,125.08 L1072.81,125.08 L1074.04,125.09 L1075.27,125.09 L1076.50,125.09 L1077.73,125.09 L1078.96,125.10 L1080.19,125.10 L1081.42,125.10 L1082.65,125.10 L1083.88,125.10 L1085.11,125.11 L1086.34,125.11 L1087.57,125.11 L1088.80,125.12 L1090.03,125.12 L1091.26,125.12 L1092.50,125.12 L1093.73,125.13 L1094.96,125.13 L1096.19,125.13 L1097.42,125.14 L1098.65,125.14 L1099.88,125.14 L1101.11,125.14 L1102.34,125.15 L1103.57,125.15 L1104.80,125.15 L1106.03,125.16 L1107.26,125.16 L1108.49,125.17 L1109.72,125.17 L1110.95,125.17 L1112.18,125.18 L1113.41,125.18 L1114.64,125.18 L1115.87,125.19 L1117.10,125.19 L1118.33,125.20 L1119.56,125.20 L1120.79,125.20 L1122.02,125.21 L1123.25,125.21 L1124.48,125.22 L1125.71,125.22 L1126.94,125.23 L1128.17,125.23 L1129.41,125.24 L1130.64,125.24 L1131.87,125.25 L1133.10,125.25 L1134.33,125.26 L1135.56,125.26 L1136.79,125.27 L1138.02,125.27 L1139.25,125.28 L1140.48,125.28 L1141.71,125.29 L1142.94,125.30 L1144.17,125.30 L1145.40,125.31 L1146.63,125.31 L1147.86,125.32 L1149.09,125.33 L1150.32,125.33 L1151.55,125.34 L1152.78,125.35 L1154.01,125.35 L1155.24,125.36 L1156.47,125.37 L1157.70,125.38 L1158.93,125.38 L1160.16,125.39 L1161.39,125.40 L1162.62,125.41 L1163.85,125.42 L1165.08,125.42 L1166.31,125.43 L1167.55,125.44 L1168.78,125.45 L1170.01,125.46 L1171.24,125.47 L1172.47,125.48 L1173.70,125.49 L1174.93,125.49 L1176.16,125.50 L1177.39,125.51 L1178.62,125.52 L1179.85,125.53 L1181.08,125.54 L1182.31,125.56 L1183.54,125.57 L1184.77,125.58 L1186.00,125.59 L1187.23,125.60 L1188.46,125.61 L1189.69,125.62 L1190.92,125.63 L1192.15,125.65 L1193.38,125.66 L1194.61,125.67 L1195.84,125.69 L1197.07,125.70 L1198.30,125.71 L1199.53,125.73 L1200.76,125.74 L1201.99,125.75 L1203.22,125.77 L1204.46,125.78 L1205.69,125.80 L1206.92,125.81 L1208.15,125.83 L1209.38,125.84 L1210.61,125.86 L1211.84,125.88 L1213.07,125.89 L1214.30,125.91 L1215.53,125.93 L1216.76,125.94 L1217.99,125.96 L1219.22,125.98 L1220.45,126.00 L1221.68,126.02 L1222.91,126.04 L1224.14,126.06 L1225.37,126.08 L1226.60,126.10 L1227.83,126.12 L1229.06,126.14 L1230.29,126.16 L1231.52,126.18 L1232.75,126.20 L1233.98,126.23 L1235.21,126.25 L1236.44,126.27 L1237.67,126.30 L1238.90,126.32 L1240.13,126.35 L1241.36,126.37 L1242.60,126.40 L1243.83,126.42 L1245.06,126.45 L1246.29,126.48 L1247.52,126.50 L1248.75,126.53 L1249.98,126.56 L1251.21,126.59 L1252.44,126.62 L1253.67,126.65 L1254.90,126.68 L1256.13,126.71 L1257.36,126.74 L1258.59,126.78 L1259.82,126.81 L1261.05,126.84 L1262.28,126.88 L1263.51,126.91 L1264.74,126.95 L1265.97,126.98 L1267.20,127.02 L1268.43,127.06 L1269.66,127.10 L1270.89,127.13 L1272.12,127.17 L1273.35,127.21 L1274.58,127.25 L1275.81,127.30 L1277.04,127.34 L1278.27,127.38 L1279.51,127.43 L1280.74,127.47 L1281.97,127.52 L1283.20,127.56 L1284.43,127.61 L1285.66,127.66 L1286.89,127.71 L1288.12,127.76 L1289.35,127.81 L1290.58,127.86 L1291.81,127.91 L1293.04,127.97 L1294.27,128.02 L1295.50,128.08 L1296.73,128.13 L1297.96,128.19 L1299.19,128.25 L1300.42,128.31 L1301.65,128.37 L1302.88,128.43 L1304.11,128.50 L1305.34,128.56 L1306.57,128.63 L1307.80,128.69 L1309.03,128.76 L1310.26,128.83 L1311.49,128.90 L1312.72,128.97 L1313.95,129.05 L1315.18,129.12 L1316.42,129.20 L1317.65,129.27 L1318.88,129.35 L1320.11,129.43 L1321.34,129.51 L1322.57,129.60 L1323.80,129.68 L1325.03,129.77 L1326.26,129.85 L1327.49,129.94 L1328.72,130.03 L1329.95,130.13 L1331.18,130.22 L1332.41,130.31 L1333.64,130.41 L1334.87,130.51 L1336.10,130.61 L1337.33,130.71 L1338.56,130.82 L1339.79,130.93 L1341.02,131.03 L1342.25,131.14 L1343.48,131.26 L1344.71,131.37 L1345.94,131.49 L1347.17,131.61 L1348.40,131.73 L1349.63,131.85 L1350.86,131.97 L1352.09,132.10 L1353.32,132.23 L1354.56,132.36 L1355.79,132.50 L1357.02,132.63 L1358.25,132.77 L1359.48,132.92 L1360.71,133.06 L1361.94,133.21 L1363.17,133.36 L1364.40,133.51 L1365.63,133.66 L1366.86,133.82 L1368.09,133.98 L1369.32,134.15 L1370.55,134.31 L1371.78,134.48 L1373.01,134.65 L1374.24,134.83 L1375.47,135.01 L1376.70,135.19 L1377.93,135.38 L1379.16,135.56 L1380.39,135.76 L1381.62,135.95 L1382.85,136.15 L1384.08,136.35 L1385.31,136.56 L1386.54,136.77 L1387.77,136.98 L1389.00,137.20 L1390.23,137.42 L1391.47,137.65 L1392.70,137.88 L1393.93,138.11 L1395.16,138.35 L1396.39,138.59 L1397.62,138.83 L1398.85,139.09 L1400.08,139.34 L1401.31,139.60 L1402.54,139.86 L1403.77,140.13 L1405.00,140.41 L1406.23,140.69 L1407.46,140.97 L1408.69,141.26 L1409.92,141.55 L1411.15,141.85 L1412.38,142.15 L1413.61,142.46 L1414.84,142.78 L1416.07,143.10 L1417.30,143.42 L1418.53,143.76 L1419.76,144.09 L1420.99,144.44 L1422.22,144.79 L1423.45,145.14 L1424.68,145.51 L1425.91,145.88 L1427.14,146.25 L1428.37,146.63 L1429.61,147.02 L1430.84,147.42 L1432.07,147.82 L1433.30,148.23 L1434.53,148.64 L1435.76,149.07 L1436.99,149.50 L1438.22,149.94 L1439.45,150.38 L1440.68,150.84 L1441.91,151.30 L1443.14,151.77 L1444.37,152.25 L1445.60,152.74 L1446.83,153.23 L1448.06,153.74 L1449.29,154.25 L1450.52,154.77 L1451.75,155.30 L1452.98,155.84 L1454.21,156.39 L1455.44,156.95 L1456.67,157.51 L1457.90,158.09 L1459.13,158.68 L1460.36,159.28 L1461.59,159.89 L1462.82,160.50 L1464.05,161.13 L1465.28,161.77 L1466.52,162.43 L1467.75,163.09 L1468.98,163.76 L1470.21,164.45 L1471.44,165.14 L1472.67,165.85 L1473.90,166.57 L1475.13,167.30 L1476.36,168.05 L1477.59,168.80 L1478.82,169.57 L1480.05,170.36 L1481.28,171.15 L1482.51,171.96 L1483.74,172.78 L1484.97,173.62 L1486.20,174.47 L1487.43,175.34 L1488.66,176.22 L1489.89,177.11 L1491.12,178.02 L1492.35,178.94 L1493.58,179.88 L1494.81,180.84 L1496.04,181.81 L1497.27,182.79 L1498.50,183.79 L1499.73,184.81 L1500.96,185.85 L1502.19,186.90 L1503.43,187.97 L1504.66,189.05 L1505.89,190.16 L1507.12,191.28 L1508.35,192.42 L1509.58,193.58 L1510.81,194.76 L1512.04,195.95 L1513.27,197.16 L1514.50,198.40 L1515.73,199.65 L1516.96,200.92 L1518.19,202.21 L1519.42,203.52 L1520.65,204.86 L1521.88,206.21 L1523.11,207.59 L1524.34,208.98 L1525.57,210.40 L1526.80,211.84 L1528.03,213.31 L1529.26,214.79 L1530.49,216.29 L1531.72,217.82 L1532.95,219.37 L1534.18,220.94 L1535.41,222.53 L1536.64,224.14 L1537.87,225.78 L1539.10,227.44 L1540.33,229.13 L1541.57,230.84 L1542.80,232.58 L1544.03,234.34 L1545.26,236.14 L1546.49,237.96 L1547.72,239.82 L1548.95,241.71 L1550.18,243.64 L1551.41,245.60 L1552.64,247.60 L1553.87,249.64 L1555.10,251.71 L1556.33,253.83 L1557.56,255.99 L1558.79,258.19 L1560.02,260.44 L1561.25,262.72 L1562.48,265.05 L1563.71,267.41 L1564.94,269.82 L1566.17,272.26 L1567.40,274.73 L1568.63,277.24 L1569.86,279.79 L1571.09,282.36 L1572.32,284.96 L1573.55,287.58 L1574.78,290.23 L1576.01,292.90 L1577.24,295.59 L1578.48,298.30 L1579.71,301.03 L1580.94,303.77 L1582.17,306.52 L1583.40,309.29 L1584.63,312.07 L1585.86,314.86 L1587.09,317.67 L1588.32,320.48 L1589.55,323.32 L1590.78,326.16 L1592.01,329.02 L1593.24,331.90 L1594.47,334.80 L1595.70,337.71 L1596.93,340.65 L1598.16,343.61 L1599.39,346.59 L1600.62,349.59 L1601.85,352.62 L1603.08,355.67 L1604.31,358.75 L1605.54,361.86 L1606.77,364.99 L1608.00,368.16 L1609.23,371.35 L1610.46,374.58 L1611.69,377.84 L1612.92,381.14 L1614.15,384.47 L1615.38,387.83 L1616.62,391.25 L1617.85,394.71 L1619.08,398.23 L1620.31,401.79 L1621.54,405.40 L1622.77,409.04 L1624.00,412.72 L1625.23,416.43 L1626.46,420.17 L1627.69,423.93 L1628.92,427.70 L1630.15,431.48 L1631.38,435.27 L1632.61,439.05 L1633.84,442.81 L1635.07,446.56 L1636.30,450.29 L1637.53,454.01 L1638.76,457.74 L1639.99,461.47 L1641.22,465.20 L1642.45,468.93 L1643.68,472.67 L1644.91,476.41 L1646.14,480.16 L1647.37,483.91 L1648.60,487.67 L1649.83,491.43 L1651.06,495.19 L1652.29,498.96 L1653.53,502.73 L1654.76,506.51 L1655.99,510.29 L1657.22,514.08 L1658.45,517.90 L1659.68,521.76 L1660.91,525.64 L1662.14,529.55 L1663.37,533.47 L1664.60,537.39 L1665.83,541.32 L1667.06,545.24 L1668.29,549.15 L1669.52,553.03 L1670.75,556.89 L1671.98,560.71 L1673.21,564.49 L1674.44,568.22 L1675.67,571.90 L1676.90,575.51 L1678.13,579.05 L1679.36,582.56 L1680.59,586.04 L1681.82,589.50 L1683.05,592.94 L1684.28,596.35 L1685.51,599.74 L1686.74,603.10 L1687.97,606.43 L1689.20,609.73 L1690.44,613.01 L1691.67,616.25 L1692.90,619.46 L1694.13,622.64 L1695.36,625.78 L1696.59,628.89 L1697.82,631.97 L1699.05,635.01 L1700.28,638.01 L1701.51,640.97 L1702.74,643.89 L1703.97,646.80 L1705.20,649.69 L1706.43,652.58 L1707.66,655.44 L1708.89,658.29 L1710.12,661.13 L1711.35,663.94 L1712.58,666.73 L1713.81,669.50 L1715.04,672.24 L1716.27,674.95 L1717.50,677.64 L1718.73,680.30 L1719.96,682.92 L1721.19,685.51 L1722.42,688.06 L1723.65,690.57 L1724.88,693.05 L1726.11,695.48 L1727.34,697.87 L1728.58,700.22 L1729.81,702.52 L1731.04,704.77 L1732.27,706.97 L1733.50,709.13 L1734.73,711.26 L1735.96,713.39 L1737.19,715.50 L1738.42,717.58 L1739.65,719.63 L1740.88,721.66 L1742.11,723.64 L1743.34,725.58 L1744.57,727.48 L1745.80,729.32 L1747.03,731.11 L1748.26,732.83 L1749.49,734.49 L1750.72,736.07 L1751.95,737.58 L1753.18,739.01 L1754.41,740.35 L1755.64,741.65 L1756.87,742.91 L1758.10,744.14 L1759.33,745.34 L1760.56,746.51 L1761.79,747.65 L1763.02,748.75 L1764.25,749.81 L1765.49,750.84 L1766.72,751.84 L1767.95,752.80 L1769.18,753.72 L1770.41,754.60 L1771.64,755.44 L1772.87,756.25 L1774.10,757.01 L1775.33,757.74 L1776.56,758.42 L1777.79,759.09 L1779.02,759.73 L1780.25,760.36 L1781.48,760.97 L1782.71,761.56 L1783.94,762.13 L1785.17,762.68 L1786.40,763.20 L1787.63,763.71 L1788.86,764.19 L1790.09,764.64 L1791.32,765.08 L1792.55,765.49 L1793.78,765.87 L1795.01,766.23 L1796.24,766.57 L1797.47,766.89 L1798.70,767.20 L1799.93,767.51 L1801.16,767.81 L1802.39,768.10 L1803.63,768.38 L1804.86,768.64 L1806.09,768.90 L1807.32,769.14 L1808.55,769.37 L1809.78,769.58 L1811.01,769.77 L1812.24,769.95 L1813.47,770.10 L1814.70,770.24 L1815.93,770.36 L1817.16,770.47 L1818.39,770.57 L1819.62,770.67 L1820.85,770.77 L1822.08,770.87 L1823.31,770.96 L1824.54,771.05 L1825.77,771.13 L1827.00,771.21 L1828.23,771.29 L1829.46,771.37 L1830.69,771.44 L1831.92,771.51 L1833.15,771.57 L1834.38,771.63 L1835.61,771.68 L1836.84,771.74 L1838.07,771.78 L1839.30,771.83 L1840.54,771.86 L1841.77,771.90 L1843.00,771.93 L1844.23,771.95 L1845.46,771.97 L1846.69,771.99 L1847.92,772.00 L1849.15,772.02 L1850.38,772.03 L1851.61,772.04 L1852.84,772.06 L1854.07,772.07 L1855.30,772.08 L1856.53,772.10 L1857.76,772.11 L1858.99,772.12 L1860.22,772.13 L1861.45,772.14 L1862.68,772.15 L1863.91,772.16 L1865.14,772.17 L1866.37,772.18 L1867.60,772.19 L1868.83,772.20 L1870.06,772.21 L1871.29,772.22 L1872.52,772.23 L1873.75,772.23 L1874.98,772.24 L1876.21,772.25 L1877.45,772.25 L1878.68,772.26 L1879.91,772.26 L1881.14,772.27 L1882.37,772.27 L1883.60,772.28 L1884.83,772.28 L1886.06,772.29 L1887.29,772.29 L1888.52,772.29 L1889.75,772.29 L1890.98,772.30 L1892.21,772.30 L1893.44,772.30 L1894.67,772.30 L1895.90,772.30" fill="none" stroke="#fd964e" stroke-width="3.3" stroke-dasharray="10.4 4.2" stroke-linejoin="round" />
<path d="M1047.30,124.98 L1048.67,124.98 L1050.05,124.98 L1051.42,124.98 L1052.79,124.98 L1054.17,124.98 L1055.54,124.98 L1056.91,124.98 L1058.29,124.99 L1059.66,124.99 L1061.03,124.99 L1062.41,124.99 L1063.78,124.99 L1065.15,124.99 L1066.53,124.99 L1067.90,124.99 L1069.27,124.99 L1070.65,124.99 L1072.02,124.99 L1073.39,124.99 L1074.77,124.99 L1076.14,124.99 L1077.51,124.99 L1078.89,124.99 L1080.26,124.99 L1081.63,124.99 L1083.01,124.99 L1084.38,124.99 L1085.75,124.99 L1087.13,124.99 L1088.50,125.00 L1089.88,125.00 L1091.25,125.00 L1092.62,125.00 L1094.00,125.00 L1095.37,125.00 L1096.74,125.00 L1098.12,125.00 L1099.49,125.00 L1100.86,125.00 L1102.24,125.00 L1103.61,125.00 L1104.98,125.00 L1106.36,125.00 L1107.73,125.00 L1109.10,125.01 L1110.48,125.01 L1111.85,125.01 L1113.22,125.01 L1114.60,125.01 L1115.97,125.01 L1117.34,125.01 L1118.72,125.01 L1120.09,125.01 L1121.46,125.01 L1122.84,125.01 L1124.21,125.02 L1125.58,125.02 L1126.96,125.02 L1128.33,125.02 L1129.70,125.02 L1131.08,125.02 L1132.45,125.02 L1133.82,125.02 L1135.20,125.02 L1136.57,125.02 L1137.94,125.03 L1139.32,125.03 L1140.69,125.03 L1142.06,125.03 L1143.44,125.03 L1144.81,125.03 L1146.18,125.03 L1147.56,125.04 L1148.93,125.04 L1150.30,125.04 L1151.68,125.04 L1153.05,125.04 L1154.42,125.04 L1155.80,125.04 L1157.17,125.05 L1158.54,125.05 L1159.92,125.05 L1161.29,125.05 L1162.66,125.05 L1164.04,125.05 L1165.41,125.06 L1166.78,125.06 L1168.16,125.06 L1169.53,125.06 L1170.91,125.06 L1172.28,125.07 L1173.65,125.07 L1175.03,125.07 L1176.40,125.07 L1177.77,125.07 L1179.15,125.08 L1180.52,125.08 L1181.89,125.08 L1183.27,125.08 L1184.64,125.08 L1186.01,125.09 L1187.39,125.09 L1188.76,125.09 L1190.13,125.09 L1191.51,125.10 L1192.88,125.10 L1194.25,125.10 L1195.63,125.11 L1197.00,125.11 L1198.37,125.11 L1199.75,125.11 L1201.12,125.12 L1202.49,125.12 L1203.87,125.12 L1205.24,125.13 L1206.61,125.13 L1207.99,125.13 L1209.36,125.14 L1210.73,125.14 L1212.11,125.14 L1213.48,125.15 L1214.85,125.15 L1216.23,125.15 L1217.60,125.16 L1218.97,125.16 L1220.35,125.17 L1221.72,125.17 L1223.09,125.17 L1224.47,125.18 L1225.84,125.18 L1227.21,125.19 L1228.59,125.19 L1229.96,125.20 L1231.33,125.20 L1232.71,125.21 L1234.08,125.21 L1235.45,125.22 L1236.83,125.22 L1238.20,125.23 L1239.57,125.23 L1240.95,125.24 L1242.32,125.24 L1243.69,125.25 L1245.07,125.25 L1246.44,125.26 L1247.82,125.27 L1249.19,125.27 L1250.56,125.28 L1251.94,125.28 L1253.31,125.29 L1254.68,125.30 L1256.06,125.30 L1257.43,125.31 L1258.80,125.32 L1260.18,125.33 L1261.55,125.33 L1262.92,125.34 L1264.30,125.35 L1265.67,125.36 L1267.04,125.36 L1268.42,125.37 L1269.79,125.38 L1271.16,125.39 L1272.54,125.40 L1273.91,125.41 L1275.28,125.42 L1276.66,125.42 L1278.03,125.43 L1279.40,125.44 L1280.78,125.45 L1282.15,125.46 L1283.52,125.47 L1284.90,125.48 L1286.27,125.49 L1287.64,125.51 L1289.02,125.52 L1290.39,125.53 L1291.76,125.54 L1293.14,125.55 L1294.51,125.56 L1295.88,125.57 L1297.26,125.59 L1298.63,125.60 L1300.00,125.61 L1301.38,125.63 L1302.75,125.64 L1304.12,125.65 L1305.50,125.67 L1306.87,125.68 L1308.24,125.70 L1309.62,125.71 L1310.99,125.73 L1312.36,125.74 L1313.74,125.76 L1315.11,125.77 L1316.48,125.79 L1317.86,125.81 L1319.23,125.82 L1320.60,125.84 L1321.98,125.86 L1323.35,125.88 L1324.72,125.90 L1326.10,125.91 L1327.47,125.93 L1328.85,125.95 L1330.22,125.97 L1331.59,125.99 L1332.97,126.02 L1334.34,126.04 L1335.71,126.06 L1337.09,126.08 L1338.46,126.10 L1339.83,126.13 L1341.21,126.15 L1342.58,126.18 L1343.95,126.20 L1345.33,126.23 L1346.70,126.25 L1348.07,126.28 L1349.45,126.30 L1350.82,126.33 L1352.19,126.36 L1353.57,126.39 L1354.94,126.42 L1356.31,126.45 L1357.69,126.48 L1359.06,126.51 L1360.43,126.54 L1361.81,126.57 L1363.18,126.60 L1364.55,126.64 L1365.93,126.67 L1367.30,126.71 L1368.67,126.74 L1370.05,126.78 L1371.42,126.81 L1372.79,126.85 L1374.17,126.89 L1375.54,126.93 L1376.91,126.97 L1378.29,127.01 L1379.66,127.05 L1381.03,127.09 L1382.41,127.14 L1383.78,127.18 L1385.15,127.23 L1386.53,127.27 L1387.90,127.32 L1389.27,127.37 L1390.65,127.42 L1392.02,127.47 L1393.39,127.52 L1394.77,127.57 L1396.14,127.62 L1397.51,127.68 L1398.89,127.73 L1400.26,127.79 L1401.63,127.85 L1403.01,127.91 L1404.38,127.97 L1405.75,128.03 L1407.13,128.09 L1408.50,128.15 L1409.88,128.22 L1411.25,128.28 L1412.62,128.35 L1414.00,128.42 L1415.37,128.49 L1416.74,128.56 L1418.12,128.64 L1419.49,128.71 L1420.86,128.79 L1422.24,128.86 L1423.61,128.94 L1424.98,129.02 L1426.36,129.11 L1427.73,129.19 L1429.10,129.28 L1430.48,129.36 L1431.85,129.45 L1433.22,129.55 L1434.60,129.64 L1435.97,129.73 L1437.34,129.83 L1438.72,129.93 L1440.09,130.03 L1441.46,130.13 L1442.84,130.24 L1444.21,130.35 L1445.58,130.46 L1446.96,130.57 L1448.33,130.68 L1449.70,130.80 L1451.08,130.92 L1452.45,131.04 L1453.82,131.16 L1455.20,131.29 L1456.57,131.41 L1457.94,131.55 L1459.32,131.68 L1460.69,131.82 L1462.06,131.95 L1463.44,132.10 L1464.81,132.24 L1466.18,132.39 L1467.56,132.54 L1468.93,132.69 L1470.30,132.85 L1471.68,133.01 L1473.05,133.17 L1474.42,133.34 L1475.80,133.51 L1477.17,133.68 L1478.54,133.86 L1479.92,134.04 L1481.29,134.22 L1482.66,134.41 L1484.04,134.60 L1485.41,134.80 L1486.78,135.00 L1488.16,135.20 L1489.53,135.41 L1490.91,135.62 L1492.28,135.83 L1493.65,136.05 L1495.03,136.28 L1496.40,136.51 L1497.77,136.74 L1499.15,136.98 L1500.52,137.22 L1501.89,137.47 L1503.27,137.72 L1504.64,137.98 L1506.01,138.24 L1507.39,138.51 L1508.76,138.78 L1510.13,139.06 L1511.51,139.35 L1512.88,139.64 L1514.25,139.93 L1515.63,140.23 L1517.00,140.54 L1518.37,140.86 L1519.75,141.18 L1521.12,141.50 L1522.49,141.84 L1523.87,142.18 L1525.24,142.52 L1526.61,142.87 L1527.99,143.23 L1529.36,143.60 L1530.73,143.98 L1532.11,144.36 L1533.48,144.75 L1534.85,145.14 L1536.23,145.55 L1537.60,145.96 L1538.97,146.38 L1540.35,146.81 L1541.72,147.25 L1543.09,147.70 L1544.47,148.15 L1545.84,148.62 L1547.21,149.09 L1548.59,149.57 L1549.96,150.06 L1551.33,150.56 L1552.71,151.07 L1554.08,151.59 L1555.45,152.13 L1556.83,152.67 L1558.20,153.22 L1559.57,153.78 L1560.95,154.36 L1562.32,154.94 L1563.69,155.54 L1565.07,156.15 L1566.44,156.76 L1567.82,157.39 L1569.19,158.04 L1570.56,158.69 L1571.94,159.36 L1573.31,160.04 L1574.68,160.74 L1576.06,161.45 L1577.43,162.17 L1578.80,162.90 L1580.18,163.65 L1581.55,164.41 L1582.92,165.19 L1584.30,165.98 L1585.67,166.79 L1587.04,167.61 L1588.42,168.45 L1589.79,169.30 L1591.16,170.17 L1592.54,171.06 L1593.91,171.96 L1595.28,172.88 L1596.66,173.82 L1598.03,174.77 L1599.40,175.75 L1600.78,176.74 L1602.15,177.74 L1603.52,178.77 L1604.90,179.82 L1606.27,180.88 L1607.64,181.96 L1609.02,183.07 L1610.39,184.19 L1611.76,185.34 L1613.14,186.50 L1614.51,187.69 L1615.88,188.90 L1617.26,190.13 L1618.63,191.39 L1620.00,192.66 L1621.38,193.96 L1622.75,195.28 L1624.12,196.62 L1625.50,197.99 L1626.87,199.38 L1628.24,200.80 L1629.62,202.24 L1630.99,203.71 L1632.36,205.20 L1633.74,206.72 L1635.11,208.27 L1636.48,209.84 L1637.86,211.44 L1639.23,213.07 L1640.60,214.72 L1641.98,216.40 L1643.35,218.11 L1644.72,219.84 L1646.10,221.60 L1647.47,223.39 L1648.85,225.21 L1650.22,227.05 L1651.59,228.93 L1652.97,230.84 L1654.34,232.78 L1655.71,234.76 L1657.09,236.77 L1658.46,238.82 L1659.83,240.92 L1661.21,243.05 L1662.58,245.23 L1663.95,247.46 L1665.33,249.73 L1666.70,252.06 L1668.07,254.43 L1669.45,256.86 L1670.82,259.34 L1672.19,261.87 L1673.57,264.45 L1674.94,267.08 L1676.31,269.76 L1677.69,272.49 L1679.06,275.26 L1680.43,278.07 L1681.81,280.92 L1683.18,283.80 L1684.55,286.72 L1685.93,289.67 L1687.30,292.65 L1688.67,295.65 L1690.05,298.68 L1691.42,301.73 L1692.79,304.79 L1694.17,307.87 L1695.54,310.97 L1696.91,314.08 L1698.29,317.21 L1699.66,320.35 L1701.03,323.51 L1702.41,326.69 L1703.78,329.89 L1705.15,333.11 L1706.53,336.36 L1707.90,339.62 L1709.27,342.92 L1710.65,346.24 L1712.02,349.59 L1713.39,352.97 L1714.77,356.39 L1716.14,359.83 L1717.51,363.31 L1718.89,366.83 L1720.26,370.38 L1721.63,373.98 L1723.01,377.61 L1724.38,381.29 L1725.75,385.01 L1727.13,388.78 L1728.50,392.61 L1729.88,396.51 L1731.25,400.46 L1732.62,404.47 L1734.00,408.53 L1735.37,412.64 L1736.74,416.78 L1738.12,420.96 L1739.49,425.16 L1740.86,429.37 L1742.24,433.60 L1743.61,437.82 L1744.98,442.03 L1746.36,446.22 L1747.73,450.38 L1749.10,454.53 L1750.48,458.69 L1751.85,462.85 L1753.22,467.02 L1754.60,471.19 L1755.97,475.37 L1757.34,479.55 L1758.72,483.74 L1760.09,487.93 L1761.46,492.13 L1762.84,496.33 L1764.21,500.54 L1765.58,504.75 L1766.96,508.97 L1768.33,513.20 L1769.70,517.46 L1771.08,521.76 L1772.45,526.09 L1773.82,530.46 L1775.20,534.84 L1776.57,539.22 L1777.94,543.60 L1779.32,547.97 L1780.69,552.31 L1782.06,556.62 L1783.44,560.89 L1784.81,565.10 L1786.18,569.25 L1787.56,573.33 L1788.93,577.33 L1790.30,581.25 L1791.68,585.15 L1793.05,589.02 L1794.42,592.86 L1795.80,596.67 L1797.17,600.44 L1798.54,604.19 L1799.92,607.89 L1801.29,611.56 L1802.66,615.20 L1804.04,618.79 L1805.41,622.34 L1806.78,625.86 L1808.16,629.33 L1809.53,632.75 L1810.91,636.13 L1812.28,639.46 L1813.65,642.74 L1815.03,645.99 L1816.40,649.22 L1817.77,652.44 L1819.15,655.64 L1820.52,658.82 L1821.89,661.98 L1823.27,665.11 L1824.64,668.21 L1826.01,671.29 L1827.39,674.33 L1828.76,677.33 L1830.13,680.30 L1831.51,683.22 L1832.88,686.10 L1834.25,688.94 L1835.63,691.73 L1837.00,694.47 L1838.37,697.16 L1839.75,699.79 L1841.12,702.36 L1842.49,704.87 L1843.87,707.32 L1845.24,709.72 L1846.61,712.11 L1847.99,714.47 L1849.36,716.81 L1850.73,719.11 L1852.11,721.38 L1853.48,723.60 L1854.85,725.76 L1856.23,727.87 L1857.60,729.91 L1858.97,731.88 L1860.35,733.76 L1861.72,735.56 L1863.09,737.27 L1864.47,738.88 L1865.84,740.38 L1867.21,741.83 L1868.59,743.23 L1869.96,744.59 L1871.33,745.92 L1872.71,747.20 L1874.08,748.44 L1875.45,749.64 L1876.83,750.80 L1878.20,751.91 L1879.57,752.97 L1880.95,753.99 L1882.32,754.96 L1883.69,755.88 L1885.07,756.75 L1886.44,757.57 L1887.82,758.34 L1889.19,759.09 L1890.56,759.81 L1891.94,760.50 L1893.31,761.18 L1894.68,761.83 L1896.06,762.45 L1897.43,763.04 L1898.80,763.61 L1900.18,764.15 L1901.55,764.66 L1902.92,765.15 L1904.30,765.60 L1905.67,766.02 L1907.04,766.40 L1908.42,766.77 L1909.79,767.12 L1911.16,767.47 L1912.54,767.80 L1913.91,768.13 L1915.28,768.43 L1916.66,768.73 L1918.03,769.01 L1919.40,769.27 L1920.78,769.51 L1922.15,769.73 L1923.52,769.93 L1924.90,770.11 L1926.27,770.26 L1927.64,770.39 L1929.02,770.51 L1930.39,770.62 L1931.76,770.73 L1933.14,770.84 L1934.51,770.94 L1935.88,771.04 L1937.26,771.14 L1938.63,771.23 L1940.00,771.31 L1941.38,771.40 L1942.75,771.47 L1944.12,771.55 L1945.50,771.62 L1946.87,771.68 L1948.24,771.74 L1949.62,771.79 L1950.99,771.83 L1952.36,771.88 L1953.74,771.91 L1955.11,771.94 L1956.48,771.97 L1957.86,771.98 L1959.23,772.00 L1960.60,772.02 L1961.98,772.03 L1963.35,772.05 L1964.72,772.06 L1966.10,772.08 L1967.47,772.09 L1968.85,772.10 L1970.22,772.12 L1971.59,772.13 L1972.97,772.14 L1974.34,772.16 L1975.71,772.17 L1977.09,772.18 L1978.46,772.19 L1979.83,772.20 L1981.21,772.21 L1982.58,772.22 L1983.95,772.23 L1985.33,772.23 L1986.70,772.24 L1988.07,772.25 L1989.45,772.26 L1990.82,772.26 L1992.19,772.27 L1993.57,772.27 L1994.94,772.28 L1996.31,772.28 L1997.69,772.29 L1999.06,772.29 L2000.43,772.29 L2001.81,772.30 L2003.18,772.30 L2004.55,772.30 L2005.93,772.30 L2007.30,772.30" fill="none" stroke="#a63603" stroke-width="3.3" stroke-dasharray="10.4 4.2" stroke-linejoin="round" />
<path d="M1123.80,124.98 L1125.17,124.98 L1126.55,124.98 L1127.92,124.98 L1129.29,124.98 L1130.67,124.98 L1132.04,124.98 L1133.41,124.98 L1134.79,124.99 L1136.16,124.99 L1137.53,124.99 L1138.91,124.99 L1140.28,124.99 L1141.65,124.99 L1143.03,124.99 L1144.40,124.99 L1145.77,124.99 L1147.15,124.99 L1148.52,124.99 L1149.89,124.99 L1151.27,124.99 L1152.64,124.99 L1154.01,124.99 L1155.39,124.99 L1156.76,124.99 L1158.13,124.99 L1159.51,124.99 L1160.88,124.99 L1162.25,124.99 L1163.63,124.99 L1165.00,125.00 L1166.38,125.00 L1167.75,125.00 L1169.12,125.00 L1170.50,125.00 L1171.87,125.00 L1173.24,125.00 L1174.62,125.00 L1175.99,125.00 L1177.36,125.00 L1178.74,125.00 L1180.11,125.00 L1181.48,125.00 L1182.86,125.00 L1184.23,125.00 L1185.60,125.01 L1186.98,125.01 L1188.35,125.01 L1189.72,125.01 L1191.10,125.01 L1192.47,125.01 L1193.84,125.01 L1195.22,125.01 L1196.59,125.01 L1197.96,125.01 L1199.34,125.01 L1200.71,125.02 L1202.08,125.02 L1203.46,125.02 L1204.83,125.02 L1206.20,125.02 L1207.58,125.02 L1208.95,125.02 L1210.32,125.02 L1211.70,125.02 L1213.07,125.02 L1214.44,125.03 L1215.82,125.03 L1217.19,125.03 L1218.56,125.03 L1219.94,125.03 L1221.31,125.03 L1222.68,125.03 L1224.06,125.04 L1225.43,125.04 L1226.80,125.04 L1228.18,125.04 L1229.55,125.04 L1230.92,125.04 L1232.30,125.04 L1233.67,125.05 L1235.04,125.05 L1236.42,125.05 L1237.79,125.05 L1239.16,125.05 L1240.54,125.05 L1241.91,125.06 L1243.28,125.06 L1244.66,125.06 L1246.03,125.06 L1247.41,125.06 L1248.78,125.07 L1250.15,125.07 L1251.53,125.07 L1252.90,125.07 L1254.27,125.07 L1255.65,125.08 L1257.02,125.08 L1258.39,125.08 L1259.77,125.08 L1261.14,125.08 L1262.51,125.09 L1263.89,125.09 L1265.26,125.09 L1266.63,125.09 L1268.01,125.10 L1269.38,125.10 L1270.75,125.10 L1272.13,125.11 L1273.50,125.11 L1274.87,125.11 L1276.25,125.11 L1277.62,125.12 L1278.99,125.12 L1280.37,125.12 L1281.74,125.13 L1283.11,125.13 L1284.49,125.13 L1285.86,125.14 L1287.23,125.14 L1288.61,125.14 L1289.98,125.15 L1291.35,125.15 L1292.73,125.15 L1294.10,125.16 L1295.47,125.16 L1296.85,125.17 L1298.22,125.17 L1299.59,125.17 L1300.97,125.18 L1302.34,125.18 L1303.71,125.19 L1305.09,125.19 L1306.46,125.20 L1307.83,125.20 L1309.21,125.21 L1310.58,125.21 L1311.95,125.22 L1313.33,125.22 L1314.70,125.23 L1316.07,125.23 L1317.45,125.24 L1318.82,125.24 L1320.19,125.25 L1321.57,125.25 L1322.94,125.26 L1324.32,125.27 L1325.69,125.27 L1327.06,125.28 L1328.44,125.28 L1329.81,125.29 L1331.18,125.30 L1332.56,125.30 L1333.93,125.31 L1335.30,125.32 L1336.68,125.33 L1338.05,125.33 L1339.42,125.34 L1340.80,125.35 L1342.17,125.36 L1343.54,125.36 L1344.92,125.37 L1346.29,125.38 L1347.66,125.39 L1349.04,125.40 L1350.41,125.41 L1351.78,125.42 L1353.16,125.42 L1354.53,125.43 L1355.90,125.44 L1357.28,125.45 L1358.65,125.46 L1360.02,125.47 L1361.40,125.48 L1362.77,125.49 L1364.14,125.51 L1365.52,125.52 L1366.89,125.53 L1368.26,125.54 L1369.64,125.55 L1371.01,125.56 L1372.38,125.57 L1373.76,125.59 L1375.13,125.60 L1376.50,125.61 L1377.88,125.63 L1379.25,125.64 L1380.62,125.65 L1382.00,125.67 L1383.37,125.68 L1384.74,125.70 L1386.12,125.71 L1387.49,125.73 L1388.86,125.74 L1390.24,125.76 L1391.61,125.77 L1392.98,125.79 L1394.36,125.81 L1395.73,125.82 L1397.10,125.84 L1398.48,125.86 L1399.85,125.88 L1401.22,125.90 L1402.60,125.91 L1403.97,125.93 L1405.35,125.95 L1406.72,125.97 L1408.09,125.99 L1409.47,126.02 L1410.84,126.04 L1412.21,126.06 L1413.59,126.08 L1414.96,126.10 L1416.33,126.13 L1417.71,126.15 L1419.08,126.18 L1420.45,126.20 L1421.83,126.23 L1423.20,126.25 L1424.57,126.28 L1425.95,126.30 L1427.32,126.33 L1428.69,126.36 L1430.07,126.39 L1431.44,126.42 L1432.81,126.45 L1434.19,126.48 L1435.56,126.51 L1436.93,126.54 L1438.31,126.57 L1439.68,126.60 L1441.05,126.64 L1442.43,126.67 L1443.80,126.71 L1445.17,126.74 L1446.55,126.78 L1447.92,126.81 L1449.29,126.85 L1450.67,126.89 L1452.04,126.93 L1453.41,126.97 L1454.79,127.01 L1456.16,127.05 L1457.53,127.09 L1458.91,127.14 L1460.28,127.18 L1461.65,127.23 L1463.03,127.27 L1464.40,127.32 L1465.77,127.37 L1467.15,127.42 L1468.52,127.47 L1469.89,127.52 L1471.27,127.57 L1472.64,127.62 L1474.01,127.68 L1475.39,127.73 L1476.76,127.79 L1478.13,127.85 L1479.51,127.91 L1480.88,127.97 L1482.25,128.03 L1483.63,128.09 L1485.00,128.15 L1486.38,128.22 L1487.75,128.28 L1489.12,128.35 L1490.50,128.42 L1491.87,128.49 L1493.24,128.56 L1494.62,128.64 L1495.99,128.71 L1497.36,128.79 L1498.74,128.86 L1500.11,128.94 L1501.48,129.02 L1502.86,129.11 L1504.23,129.19 L1505.60,129.28 L1506.98,129.36 L1508.35,129.45 L1509.72,129.55 L1511.10,129.64 L1512.47,129.73 L1513.84,129.83 L1515.22,129.93 L1516.59,130.03 L1517.96,130.13 L1519.34,130.24 L1520.71,130.35 L1522.08,130.46 L1523.46,130.57 L1524.83,130.68 L1526.20,130.80 L1527.58,130.92 L1528.95,131.04 L1530.32,131.16 L1531.70,131.29 L1533.07,131.41 L1534.44,131.55 L1535.82,131.68 L1537.19,131.82 L1538.56,131.95 L1539.94,132.10 L1541.31,132.24 L1542.68,132.39 L1544.06,132.54 L1545.43,132.69 L1546.80,132.85 L1548.18,133.01 L1549.55,133.17 L1550.92,133.34 L1552.30,133.51 L1553.67,133.68 L1555.04,133.86 L1556.42,134.04 L1557.79,134.22 L1559.16,134.41 L1560.54,134.60 L1561.91,134.80 L1563.28,135.00 L1564.66,135.20 L1566.03,135.41 L1567.41,135.62 L1568.78,135.83 L1570.15,136.05 L1571.53,136.28 L1572.90,136.51 L1574.27,136.74 L1575.65,136.98 L1577.02,137.22 L1578.39,137.47 L1579.77,137.72 L1581.14,137.98 L1582.51,138.24 L1583.89,138.51 L1585.26,138.78 L1586.63,139.06 L1588.01,139.35 L1589.38,139.64 L1590.75,139.93 L1592.13,140.23 L1593.50,140.54 L1594.87,140.86 L1596.25,141.18 L1597.62,141.50 L1598.99,141.84 L1600.37,142.18 L1601.74,142.52 L1603.11,142.87 L1604.49,143.23 L1605.86,143.60 L1607.23,143.98 L1608.61,144.36 L1609.98,144.75 L1611.35,145.14 L1612.73,145.55 L1614.10,145.96 L1615.47,146.38 L1616.85,146.81 L1618.22,147.25 L1619.59,147.70 L1620.97,148.15 L1622.34,148.62 L1623.71,149.09 L1625.09,149.57 L1626.46,150.06 L1627.83,150.56 L1629.21,151.07 L1630.58,151.59 L1631.95,152.13 L1633.33,152.67 L1634.70,153.22 L1636.07,153.78 L1637.45,154.36 L1638.82,154.94 L1640.19,155.54 L1641.57,156.15 L1642.94,156.76 L1644.32,157.39 L1645.69,158.04 L1647.06,158.69 L1648.44,159.36 L1649.81,160.04 L1651.18,160.74 L1652.56,161.45 L1653.93,162.17 L1655.30,162.90 L1656.68,163.65 L1658.05,164.41 L1659.42,165.19 L1660.80,165.98 L1662.17,166.79 L1663.54,167.61 L1664.92,168.45 L1666.29,169.30 L1667.66,170.17 L1669.04,171.06 L1670.41,171.96 L1671.78,172.88 L1673.16,173.82 L1674.53,174.77 L1675.90,175.75 L1677.28,176.74 L1678.65,177.74 L1680.02,178.77 L1681.40,179.82 L1682.77,180.88 L1684.14,181.96 L1685.52,183.07 L1686.89,184.19 L1688.26,185.34 L1689.64,186.50 L1691.01,187.69 L1692.38,188.90 L1693.76,190.13 L1695.13,191.39 L1696.50,192.66 L1697.88,193.96 L1699.25,195.28 L1700.62,196.62 L1702.00,197.99 L1703.37,199.38 L1704.74,200.80 L1706.12,202.24 L1707.49,203.71 L1708.86,205.20 L1710.24,206.72 L1711.61,208.27 L1712.98,209.84 L1714.36,211.44 L1715.73,213.07 L1717.10,214.72 L1718.48,216.40 L1719.85,218.11 L1721.22,219.84 L1722.60,221.60 L1723.97,223.39 L1725.35,225.21 L1726.72,227.05 L1728.09,228.93 L1729.47,230.84 L1730.84,232.78 L1732.21,234.76 L1733.59,236.77 L1734.96,238.82 L1736.33,240.92 L1737.71,243.05 L1739.08,245.23 L1740.45,247.46 L1741.83,249.73 L1743.20,252.06 L1744.57,254.43 L1745.95,256.86 L1747.32,259.34 L1748.69,261.87 L1750.07,264.45 L1751.44,267.08 L1752.81,269.76 L1754.19,272.49 L1755.56,275.26 L1756.93,278.07 L1758.31,280.92 L1759.68,283.80 L1761.05,286.72 L1762.43,289.67 L1763.80,292.65 L1765.17,295.65 L1766.55,298.68 L1767.92,301.73 L1769.29,304.79 L1770.67,307.87 L1772.04,310.97 L1773.41,314.08 L1774.79,317.21 L1776.16,320.35 L1777.53,323.51 L1778.91,326.69 L1780.28,329.89 L1781.65,333.11 L1783.03,336.36 L1784.40,339.62 L1785.77,342.92 L1787.15,346.24 L1788.52,349.59 L1789.89,352.97 L1791.27,356.39 L1792.64,359.83 L1794.01,363.31 L1795.39,366.83 L1796.76,370.38 L1798.13,373.98 L1799.51,377.61 L1800.88,381.29 L1802.25,385.01 L1803.63,388.78 L1805.00,392.61 L1806.38,396.51 L1807.75,400.46 L1809.12,404.47 L1810.50,408.53 L1811.87,412.64 L1813.24,416.78 L1814.62,420.96 L1815.99,425.16 L1817.36,429.37 L1818.74,433.60 L1820.11,437.82 L1821.48,442.03 L1822.86,446.22 L1824.23,450.38 L1825.60,454.53 L1826.98,458.69 L1828.35,462.85 L1829.72,467.02 L1831.10,471.19 L1832.47,475.37 L1833.84,479.55 L1835.22,483.74 L1836.59,487.93 L1837.96,492.13 L1839.34,496.33 L1840.71,500.54 L1842.08,504.75 L1843.46,508.97 L1844.83,513.20 L1846.20,517.46 L1847.58,521.76 L1848.95,526.09 L1850.32,530.46 L1851.70,534.84 L1853.07,539.22 L1854.44,543.60 L1855.82,547.97 L1857.19,552.31 L1858.56,556.62 L1859.94,560.89 L1861.31,565.10 L1862.68,569.25 L1864.06,573.33 L1865.43,577.33 L1866.80,581.25 L1868.18,585.15 L1869.55,589.02 L1870.92,592.86 L1872.30,596.67 L1873.67,600.44 L1875.04,604.19 L1876.42,607.89 L1877.79,611.56 L1879.16,615.20 L1880.54,618.79 L1881.91,622.34 L1883.28,625.86 L1884.66,629.33 L1886.03,632.75 L1887.41,636.13 L1888.78,639.46 L1890.15,642.74 L1891.53,645.99 L1892.90,649.22 L1894.27,652.44 L1895.65,655.64 L1897.02,658.82 L1898.39,661.98 L1899.77,665.11 L1901.14,668.21 L1902.51,671.29 L1903.89,674.33 L1905.26,677.33 L1906.63,680.30 L1908.01,683.22 L1909.38,686.10 L1910.75,688.94 L1912.13,691.73 L1913.50,694.47 L1914.87,697.16 L1916.25,699.79 L1917.62,702.36 L1918.99,704.87 L1920.37,707.32 L1921.74,709.72 L1923.11,712.11 L1924.49,714.47 L1925.86,716.81 L1927.23,719.11 L1928.61,721.38 L1929.98,723.60 L1931.35,725.76 L1932.73,727.87 L1934.10,729.91 L1935.47,731.88 L1936.85,733.76 L1938.22,735.56 L1939.59,737.27 L1940.97,738.88 L1942.34,740.38 L1943.71,741.83 L1945.09,743.23 L1946.46,744.59 L1947.83,745.92 L1949.21,747.20 L1950.58,748.44 L1951.95,749.64 L1953.33,750.80 L1954.70,751.91 L1956.07,752.97 L1957.45,753.99 L1958.82,754.96 L1960.19,755.88 L1961.57,756.75 L1962.94,757.57 L1964.32,758.34 L1965.69,759.09 L1967.06,759.81 L1968.44,760.50 L1969.81,761.18 L1971.18,761.83 L1972.56,762.45 L1973.93,763.04 L1975.30,763.61 L1976.68,764.15 L1978.05,764.66 L1979.42,765.15 L1980.80,765.60 L1982.17,766.02 L1983.54,766.40 L1984.92,766.77 L1986.29,767.12 L1987.66,767.47 L1989.04,767.80 L1990.41,768.13 L1991.78,768.43 L1993.16,768.73 L1994.53,769.01 L1995.90,769.27 L1997.28,769.51 L1998.65,769.73 L2000.02,769.93 L2001.40,770.11 L2002.77,770.26 L2004.14,770.39 L2005.52,770.51 L2006.89,770.62 L2008.26,770.73 L2009.64,770.84 L2011.01,770.94 L2012.38,771.04 L2013.76,771.14 L2015.13,771.23 L2016.50,771.31 L2017.88,771.40 L2019.25,771.47 L2020.62,771.55 L2022.00,771.62 L2023.37,771.68 L2024.74,771.74 L2026.12,771.79 L2027.49,771.83 L2028.86,771.88 L2030.24,771.91 L2031.61,771.94 L2032.98,771.97 L2034.36,771.98 L2035.73,772.00 L2037.10,772.02 L2038.48,772.03 L2039.85,772.05 L2041.22,772.06 L2042.60,772.08 L2043.97,772.09 L2045.35,772.10 L2046.72,772.12 L2048.09,772.13 L2049.47,772.14 L2050.84,772.16 L2052.21,772.17 L2053.59,772.18 L2054.96,772.19 L2056.33,772.20 L2057.71,772.21 L2059.08,772.22 L2060.45,772.23 L2061.83,772.23 L2063.20,772.24 L2064.57,772.25 L2065.95,772.26 L2067.32,772.26 L2068.69,772.27 L2070.07,772.27 L2071.44,772.28 L2072.81,772.28 L2074.19,772.29 L2075.56,772.29 L2076.93,772.29 L2078.31,772.30 L2079.68,772.30 L2081.05,772.30 L2082.43,772.30 L2083.80,772.30" fill="none" stroke="#7f2704" stroke-width="3.3" stroke-dasharray="10.4 4.2" stroke-linejoin="round" />
</g>
<rect x="1181.3" y="92.6" width="868.3999999999999" height="679.6999999999999" fill="none" stroke="#000" stroke-width="3.15"/>
<text class="r" font-size="33.09" stroke-width="0.31" transform="translate(1135.82,783.80) scale(0.9517,1)">0.0</text>
<text class="r" font-size="33.09" stroke-width="0.31" transform="translate(1135.80,654.34) scale(0.9661,1)">0.2</text>
<text class="r" font-size="33.09" stroke-width="0.31" transform="translate(1135.84,524.87) scale(0.9338,1)">0.4</text>
<text class="r" font-size="33.09" stroke-width="0.31" transform="translate(1135.83,395.40) scale(0.9456,1)">0.6</text>
<text class="r" font-size="33.09" stroke-width="0.31" transform="translate(1135.82,265.94) scale(0.9517,1)">0.8</text>
<text class="r" font-size="33.09" stroke-width="0.31" transform="translate(1136.17,136.47) scale(0.9429,1)">1.0</text>
<text class="r" font-size="33.04" stroke-width="0.31" transform="translate(1161.13,800.57) scale(0.9236,1)">10</text>
<text class="r" font-size="22.74" stroke-width="0.22" transform="translate(1191.60,788.52) scale(0.9416,1)">0</text>
<text class="r" font-size="33.04" stroke-width="0.31" transform="translate(1511.33,800.57) scale(0.9236,1)">10</text>
<text class="r" font-size="22.88" stroke-width="0.22" transform="translate(1541.41,788.50) scale(0.9424,1)">1</text>
<text class="r" font-size="33.04" stroke-width="0.31" transform="translate(1861.53,800.57) scale(0.9236,1)">10</text>
<text class="r" font-size="23.17" stroke-width="0.22" transform="translate(1891.35,788.75) scale(1.0616,1)">2</text>
<text class="r" font-size="33.04" stroke-width="0.31" transform="translate(1236.63,79.77) scale(0.9236,1)">10</text>
<text class="r" font-size="22.88" stroke-width="0.22" transform="translate(1266.71,67.70) scale(0.9424,1)">1</text>
<text class="r" font-size="23.17" stroke-width="0.22" transform="translate(1277.85,67.95) scale(1.0616,1)">2</text>
<text class="r" font-size="33.04" stroke-width="0.31" transform="translate(1470.13,79.77) scale(0.9236,1)">10</text>
<text class="r" font-size="22.88" stroke-width="0.22" transform="translate(1500.21,67.70) scale(0.9424,1)">1</text>
<text class="r" font-size="22.74" stroke-width="0.22" transform="translate(1512.00,67.72) scale(0.9416,1)">0</text>
<text class="r" font-size="33.04" stroke-width="0.31" transform="translate(1709.23,79.77) scale(0.9236,1)">10</text>
<text class="r" font-size="22.74" stroke-width="0.22" transform="translate(1739.70,67.72) scale(0.9416,1)">8</text>
<text class="r" font-size="33.04" stroke-width="0.31" transform="translate(1942.73,79.77) scale(0.9236,1)">10</text>
<text class="r" font-size="22.83" stroke-width="0.22" transform="translate(1973.10,67.72) scale(0.9326,1)">6</text>
<text class="i" font-size="49.01" stroke-width="0.47" transform="translate(1539.33,35.50) scale(1.0220,1)">M</text>
<text class="r" font-size="55.54" stroke-width="0.53" transform="translate(1603.28,38.90) scale(0.4855,1)">[</text>
<text class="i" font-size="49.01" stroke-width="0.47" transform="translate(1615.33,35.50) scale(1.0334,1)">M</text>
<text class="d" font-size="34.65" stroke-width="0.9" transform="translate(1655.71,43.83) scale(1.0051,1)">⊙</text>
<text class="r" font-size="55.54" stroke-width="0.53" transform="translate(1682.79,38.90) scale(0.5201,1)">]</text>
<text class="i" font-size="46.91" stroke-width="0.45" transform="translate(1522.23,861.20) scale(1.0473,1)">k</text>
<text class="r" font-size="56.14" stroke-width="0.53" transform="translate(1563.84,864.82) scale(0.5604,1)">[</text>
<text class="r" font-size="47.49" stroke-width="0.45" transform="translate(1573.84,860.71) scale(0.9620,1)">Mpc</text>
<text class="r" font-size="33.00" stroke-width="0" transform="translate(1657.55,843.77) scale(1.4858,1)">−</text>
<text class="r" font-size="32.27" stroke-width="0.31" transform="translate(1683.64,842.00) scale(0.8351,1)">1</text>
<text class="r" font-size="56.14" stroke-width="0.53" transform="translate(1698.21,864.82) scale(0.5541,1)">]</text>
<text class="i" font-size="49.92" stroke-width="0.47" transform="translate(1103.20,568.63) rotate(-90) scale(1.0864,1)">P</text>
<text class="r" font-size="52.45" stroke-width="0.50" transform="translate(1103.75,534.85) rotate(-90) scale(0.7404,1)">(</text>
<text class="i" font-size="46.62" stroke-width="0.44" transform="translate(1103.60,518.24) rotate(-90) scale(1.0286,1)">k</text>
<text class="r" font-size="52.45" stroke-width="0.50" transform="translate(1103.75,493.36) rotate(-90) scale(0.7404,1)">)</text>
<text class="r" font-size="70.45" stroke-width="0.67" transform="translate(1113.80,474.80) rotate(-90) scale(0.9361,1)">/</text>
<text class="i" font-size="49.92" stroke-width="0.47" transform="translate(1103.20,452.62) rotate(-90) scale(1.1102,1)">P</text>
<text class="r" font-size="34.94" stroke-width="0.33" transform="translate(1109.95,426.60) rotate(-90) scale(0.9271,1)">CDM</text>
<text class="r" font-size="52.45" stroke-width="0.50" transform="translate(1103.75,348.18) rotate(-90) scale(0.7552,1)">(</text>
<text class="i" font-size="46.62" stroke-width="0.44" transform="translate(1103.60,333.45) rotate(-90) scale(1.0336,1)">k</text>
<text class="r" font-size="52.45" stroke-width="0.50" transform="translate(1103.75,307.49) rotate(-90) scale(0.7552,1)">)</text>
<line x1="1210.5" y1="406.4" x2="1276.3" y2="406.4" stroke="#000" stroke-width="3.7" stroke-dasharray="3.63 6.0"/>
<line x1="1208.9" y1="452.0" x2="1278" y2="452.0" stroke="#bf00bf" stroke-opacity="0.5" stroke-width="3.7"/>
<line x1="1208.9" y1="497.5" x2="1278" y2="497.5" stroke="#87ceeb" stroke-width="4.0"/>
<line x1="1208.9" y1="543.1" x2="1278" y2="543.1" stroke="#1e90ff" stroke-width="4.0"/>
<line x1="1208.9" y1="588.7" x2="1278" y2="588.7" stroke="#191970" stroke-width="4.0"/>
<line x1="1210.4" y1="634.2" x2="1276.2" y2="634.2" stroke="#fd964e" stroke-width="3.1" stroke-dasharray="10.5 4.0"/>
<line x1="1210.4" y1="679.8" x2="1276.2" y2="679.8" stroke="#a63603" stroke-width="3.1" stroke-dasharray="10.5 4.0"/>
<line x1="1210.4" y1="725.4" x2="1276.2" y2="725.4" stroke="#7f2704" stroke-width="3.1" stroke-dasharray="10.5 4.0"/>
<text class="r" font-size="36.13" stroke-width="0.34" transform="translate(1301.43,419.04) scale(0.8803,1)">CDM</text>
<text class="r" font-size="35.99" stroke-width="0.34" transform="translate(1300.88,464.34) scale(0.8712,1)">SIDM</text>
<text class="i" font-size="33.89" stroke-width="0.32" transform="translate(1300.08,509.50) scale(1.1909,1)">T</text>
<text class="r" font-size="23.26" stroke-width="0.22" transform="translate(1321.45,513.97) scale(0.9775,1)">kd</text>
<text class="r" font-size="25.20" stroke-width="0" transform="translate(1353.65,510.23) scale(1.7836,1)">=</text>
<text class="r" font-size="33.38" stroke-width="0.32" transform="translate(1387.13,509.30) scale(0.9380,1)">0.72</text>
<text class="r" font-size="32.39" stroke-width="0.31" transform="translate(1451.70,509.31) scale(0.9214,1)">keV</text>
<text class="i" font-size="33.89" stroke-width="0.32" transform="translate(1300.08,554.90) scale(1.1909,1)">T</text>
<text class="r" font-size="23.26" stroke-width="0.22" transform="translate(1321.45,559.37) scale(0.9775,1)">kd</text>
<text class="r" font-size="25.20" stroke-width="0" transform="translate(1353.65,555.63) scale(1.7836,1)">=</text>
<text class="r" font-size="33.51" stroke-width="0.32" transform="translate(1387.10,554.70) scale(0.9214,1)">1.46</text>
<text class="r" font-size="32.39" stroke-width="0.31" transform="translate(1451.70,554.71) scale(0.9214,1)">keV</text>
<text class="i" font-size="33.89" stroke-width="0.32" transform="translate(1300.08,600.20) scale(1.1909,1)">T</text>
<text class="r" font-size="23.26" stroke-width="0.22" transform="translate(1321.45,604.67) scale(0.9775,1)">kd</text>
<text class="r" font-size="25.20" stroke-width="0" transform="translate(1353.65,600.93) scale(1.7836,1)">=</text>
<text class="r" font-size="33.51" stroke-width="0.32" transform="translate(1386.97,600.00) scale(0.9374,1)">2.32</text>
<text class="r" font-size="32.39" stroke-width="0.31" transform="translate(1451.70,600.01) scale(0.9214,1)">keV</text>
<text class="i" font-size="31.17" stroke-width="0.30" transform="translate(1301.29,645.60) scale(1.2932,1)">m</text>
<text class="r" font-size="23.13" stroke-width="0.22" transform="translate(1330.30,649.90) scale(1.0066,1)">WDM</text>
<text class="r" font-size="25.20" stroke-width="0" transform="translate(1399.43,646.13) scale(1.7238,1)">=</text>
<text class="r" font-size="33.51" stroke-width="0.32" transform="translate(1431.80,645.20) scale(0.9422,1)">3.5</text>
<text class="r" font-size="32.39" stroke-width="0.31" transform="translate(1481.80,645.21) scale(0.9270,1)">keV</text>
<text class="i" font-size="31.17" stroke-width="0.30" transform="translate(1301.29,691.00) scale(1.2932,1)">m</text>
<text class="r" font-size="23.13" stroke-width="0.22" transform="translate(1330.30,695.30) scale(1.0066,1)">WDM</text>
<text class="r" font-size="25.20" stroke-width="0" transform="translate(1399.43,691.53) scale(1.7238,1)">=</text>
<text class="r" font-size="33.51" stroke-width="0.32" transform="translate(1431.96,690.60) scale(0.9382,1)">6.5</text>
<text class="r" font-size="32.39" stroke-width="0.31" transform="translate(1481.80,690.61) scale(0.9270,1)">keV</text>
<text class="i" font-size="31.17" stroke-width="0.30" transform="translate(1301.29,736.30) scale(1.2932,1)">m</text>
<text class="r" font-size="23.13" stroke-width="0.22" transform="translate(1330.30,740.60) scale(1.0066,1)">WDM</text>
<text class="r" font-size="25.20" stroke-width="0" transform="translate(1399.43,736.83) scale(1.7238,1)">=</text>
<text class="r" font-size="33.48" stroke-width="0.32" transform="translate(1432.46,736.07) scale(0.9011,1)">10</text>
<text class="r" font-size="32.39" stroke-width="0.31" transform="translate(1473.00,735.91) scale(0.9195,1)">keV</text>
</svg></body></html>
